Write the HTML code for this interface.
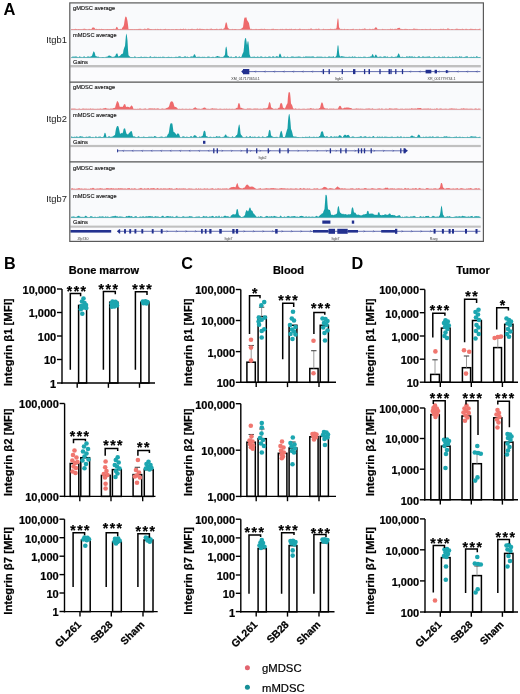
<!DOCTYPE html>
<html><head><meta charset="utf-8"><title>Figure</title>
<style>
html,body{margin:0;padding:0;background:#fff;}
body{width:520px;height:694px;overflow:hidden;}
svg{display:block;font-family:'Liberation Sans', Arial, sans-serif;}
.b{stroke:#000;stroke-width:0.22px;}
.s{stroke:#111;stroke-width:0.15px;}
</style></head><body>
<svg width="520" height="694" viewBox="0 0 520 694">
<rect width="520" height="694" fill="#fff"/>
<text x="3.6" y="14.8" font-size="16.5" font-weight="bold" text-anchor="start" fill="#000" class="b" style="stroke:none">A</text>
<rect x="69.8" y="2.9" width="413.6" height="238.5" fill="#f9fafc"/>
<rect x="70.4" y="67.4" width="412.4" height="14.8" fill="#fbfbfd"/>
<text x="73" y="9.8" font-size="5.7" fill="#222" class="s">gMDSC average</text>
<text x="73" y="36.9" font-size="5.7" fill="#222" class="s">mMDSC average</text>
<text x="73" y="63.5" font-size="5.7" fill="#222" class="s">Gains</text>
<line x1="70.4" y1="30.3" x2="482.8" y2="30.3" stroke="#dfe2e8" stroke-width="0.5" />
<line x1="70.4" y1="58.1" x2="482.8" y2="58.1" stroke="#dfe2e8" stroke-width="0.5" />
<line x1="71" y1="29.6" x2="480.5" y2="29.6" stroke="#dcaaac" stroke-width="1.0" />
<path d="M71,29.6 L71,29.16 71.5,29.25 72,29.11 72.5,29.23 73,29.06 73.5,29.19 74,29.29 74.5,28.96 75,29.1 75.5,28.77 76,28.94 76.5,28.89 77,29.01 77.5,29.41 78,29.11 78.5,29 79,29.12 79.5,29.13 80,29 80.5,29.19 81,29.34 81.5,29.11 82,29.5 82.5,29.21 83,28.8 83.5,29.07 84,28.82 84.5,28.74 85,28.66 85.5,28.89 86,28.92 86.5,29.18 87,29.14 87.5,29.46 88,29.32 88.5,29.19 89,28.72 89.5,28.97 90,28.99 90.5,29.26 91,29.16 91.5,28.94 92,28.21 92.5,27.54 93,27.59 93.5,27.61 94,27.5 94.5,28.01 95,28.55 95.5,29.18 96,29.04 96.5,28.83 97,29.12 97.5,29.02 98,29.26 98.5,29.21 99,28.67 99.5,28.93 100,28.9 100.5,29.2 101,28.95 101.5,28.85 102,28.96 102.5,28.88 103,29.11 103.5,28.94 104,29.23 104.5,29.28 105,29.35 105.5,29.33 106,28.9 106.5,29.21 107,28.89 107.5,29.01 108,29.04 108.5,29.22 109,28.89 109.5,29.1 110,29.16 110.5,29.03 111,29.06 111.5,29.06 112,29.12 112.5,29.09 113,28.9 113.5,28.94 114,28.52 114.5,29.18 115,28.91 115.5,29.09 116,27.69 116.5,26.92 117,26.68 117.5,27.38 118,28.68 118.5,29.05 119,29.33 119.5,29.16 120,28.99 120.5,28.72 121,29.03 121.5,29.3 122,28.33 122.5,27.49 123,26.7 123.5,26.18 124,24.53 124.5,21.05 125,18.03 125.5,16.44 126,16.67 126.5,17 127,18.72 127.5,20.97 128,24.64 128.5,29.14 129,29.13 129.5,29.2 130,29.14 130.5,28.93 131,29.21 131.5,29.09 132,29.21 132.5,28.91 133,29.3 133.5,29.27 134,29.23 134.5,29.06 135,29.17 135.5,29.15 136,29.09 136.5,28.89 137,29.4 137.5,29.03 138,28.99 138.5,28.95 139,28.85 139.5,29.1 140,28.75 140.5,28.99 141,28.79 141.5,29.19 142,29.46 142.5,29.31 143,29.42 143.5,29.09 144,28.94 144.5,28.54 145,28.92 145.5,28.75 146,28.89 146.5,29.15 147,28.72 147.5,28.43 148,28.29 148.5,28.44 149,28.65 149.5,28.85 150,28.94 150.5,29.06 151,29.06 151.5,28.94 152,29.16 152.5,29.24 153,29.26 153.5,29.13 154,29.19 154.5,29.3 155,29.05 155.5,28.95 156,28.71 156.5,29.39 157,29.16 157.5,28.86 158,29.03 158.5,28.94 159,29.31 159.5,29.18 160,29.28 160.5,28.86 161,29.24 161.5,29.13 162,29.2 162.5,29.49 163,29.24 163.5,29.25 164,28.91 164.5,29.08 165,29.05 165.5,28.81 166,29.06 166.5,29.16 167,29.41 167.5,29.33 168,29.05 168.5,29.29 169,29.12 169.5,29.26 170,29.36 170.5,29.41 171,29.23 171.5,29.32 172,29.07 172.5,29.31 173,29.25 173.5,29.12 174,29.41 174.5,29.43 175,29.34 175.5,28.94 176,28.96 176.5,29.09 177,29.05 177.5,29.18 178,29.36 178.5,29.36 179,29.5 179.5,29.35 180,29.11 180.5,28.71 181,29.06 181.5,28.98 182,28.89 182.5,29.03 183,28.98 183.5,28.48 184,28.9 184.5,29.21 185,29.29 185.5,28.62 186,29.22 186.5,29.23 187,29.5 187.5,29.43 188,29.45 188.5,28.87 189,29.2 189.5,29.15 190,29.27 190.5,28.94 191,29.01 191.5,28.99 192,28.62 192.5,29.12 193,29.3 193.5,29.1 194,29.27 194.5,28.97 195,29.32 195.5,29.14 196,29.23 196.5,29.05 197,28.66 197.5,28.42 198,29.07 198.5,29.26 199,28.77 199.5,28.74 200,28.7 200.5,28.87 201,28.92 201.5,28.88 202,28.83 202.5,28.88 203,28.88 203.5,29.07 204,29.05 204.5,29.09 205,29.47 205.5,29.33 206,29.23 206.5,28.92 207,28.8 207.5,28.92 208,29.06 208.5,29.29 209,29.29 209.5,29.46 210,28.56 210.5,28.91 211,28.87 211.5,28.61 212,29.01 212.5,28.9 213,28.92 213.5,29.31 214,29.29 214.5,29.04 215,28.9 215.5,28.97 216,28.96 216.5,28.77 217,28.76 217.5,29.1 218,29.47 218.5,29.26 219,29.17 219.5,28.85 220,28.88 220.5,28.75 221,28.99 221.5,28.62 222,29.12 222.5,29.47 223,29.22 223.5,28.79 224,28.37 224.5,28.15 225,25.94 225.5,23.4 226,22.27 226.5,22.51 227,23.79 227.5,26.44 228,28.15 228.5,28.32 229,28.72 229.5,29.36 230,29.22 230.5,29.36 231,29.24 231.5,29.2 232,29.28 232.5,28.8 233,29.15 233.5,29.25 234,29.27 234.5,29 235,29.12 235.5,29 236,29.06 236.5,29.17 237,29.47 237.5,29.29 238,29.4 238.5,29.36 239,29.35 239.5,29.34 240,29.13 240.5,28.98 241,28.86 241.5,28.44 242,28.35 242.5,27.76 243,27.18 243.5,23.4 244,19.7 244.5,17.57 245,17.68 245.5,17.77 246,17.1 246.5,17.79 247,19.97 247.5,20.82 248,21.41 248.5,22.25 249,23.35 249.5,25.95 250,28.26 250.5,29.11 251,28.94 251.5,28.82 252,28.91 252.5,29.14 253,29.29 253.5,29.14 254,29.1 254.5,29.22 255,29.14 255.5,28.99 256,28.68 256.5,28.9 257,28.98 257.5,29.37 258,29.16 258.5,29.1 259,28.95 259.5,28.92 260,29 260.5,29.08 261,28.68 261.5,28.95 262,28.74 262.5,28.96 263,29.12 263.5,29.13 264,28.83 264.5,28.69 265,28.96 265.5,29.11 266,29.22 266.5,29.33 267,29.05 267.5,29.21 268,29.07 268.5,29.41 269,28.97 269.5,29.22 270,29.45 270.5,29.15 271,29.31 271.5,29.05 272,28.87 272.5,28.89 273,28.81 273.5,28.81 274,29.1 274.5,29.13 275,29.15 275.5,29.12 276,28.92 276.5,29.22 277,29.06 277.5,28.97 278,29.4 278.5,29.37 279,29.45 279.5,29.13 280,29.24 280.5,29.07 281,28.83 281.5,29.14 282,29.15 282.5,28.87 283,29.04 283.5,29.16 284,29.27 284.5,29.27 285,29.16 285.5,28.65 286,28.97 286.5,28.84 287,28.89 287.5,29.01 288,29.26 288.5,28.93 289,29.06 289.5,28.79 290,29.13 290.5,28.89 291,28.75 291.5,28.79 292,28.91 292.5,29.33 293,29.41 293.5,29.09 294,28.96 294.5,28.89 295,28.91 295.5,28.86 296,29.37 296.5,29.18 297,29.31 297.5,29.26 298,29.2 298.5,29.09 299,29 299.5,28.87 300,28.58 300.5,28.93 301,29.04 301.5,29.4 302,29.16 302.5,29.12 303,29.28 303.5,29.3 304,28.89 304.5,29.34 305,29.12 305.5,29.25 306,29.5 306.5,29.1 307,29.31 307.5,29.15 308,29.31 308.5,28.86 309,29.24 309.5,29.21 310,28.86 310.5,28.82 311,28.59 311.5,28.61 312,28.99 312.5,29.14 313,29.23 313.5,29.24 314,29.42 314.5,29.17 315,28.93 315.5,29.21 316,28.62 316.5,29.03 317,29.09 317.5,29.19 318,28.87 318.5,28.78 319,28.53 319.5,29.01 320,29.42 320.5,29.49 321,29.47 321.5,29.38 322,29.17 322.5,29.25 323,29.19 323.5,28.5 324,29.19 324.5,29.31 325,29.08 325.5,29.28 326,29.07 326.5,29.28 327,29.16 327.5,28.94 328,29.32 328.5,29.12 329,28.96 329.5,29.08 330,29.33 330.5,28.55 331,28.88 331.5,28.91 332,28.74 332.5,29.11 333,29.27 333.5,29.22 334,28.63 334.5,28.7 335,29.25 335.5,28.81 336,28.48 336.5,28.17 337,23.5 337.5,19.38 338,17.94 338.5,20.04 339,26.93 339.5,28.26 340,28.57 340.5,29.32 341,29.26 341.5,28.99 342,28.66 342.5,29.29 343,29.46 343.5,29.22 344,28.97 344.5,28.78 345,28.97 345.5,29.45 346,29.31 346.5,29.29 347,29.11 347.5,28.99 348,29.1 348.5,29.27 349,29.15 349.5,29.39 350,29.36 350.5,29.36 351,29.04 351.5,29.31 352,29.01 352.5,29.03 353,28.8 353.5,28.79 354,29.47 354.5,29.45 355,29.44 355.5,29.27 356,29.06 356.5,29.13 357,29.26 357.5,29.15 358,29.46 358.5,29.5 359,29.2 359.5,28.64 360,28.93 360.5,29.26 361,29.25 361.5,29.09 362,29.21 362.5,28.83 363,28.92 363.5,28.76 364,29.2 364.5,28.35 365,28.54 365.5,28.73 366,28.99 366.5,29.27 367,29.5 367.5,28.95 368,29.17 368.5,29.24 369,29.13 369.5,28.87 370,28.86 370.5,28.89 371,29.18 371.5,29.24 372,28.92 372.5,28.81 373,29.03 373.5,28.84 374,29.29 374.5,28.56 375,27.75 375.5,27.28 376,27.44 376.5,27.4 377,28.1 377.5,29.27 378,29.26 378.5,29.19 379,29.18 379.5,29.23 380,29.47 380.5,29.49 381,29.25 381.5,29.5 382,29.27 382.5,28.86 383,28.94 383.5,29.22 384,29.34 384.5,29.23 385,29.3 385.5,29.2 386,29.18 386.5,29.4 387,29.21 387.5,29.31 388,29.02 388.5,29.14 389,29.28 389.5,29.23 390,28.99 390.5,28.62 391,29.06 391.5,29.01 392,28.76 392.5,28.79 393,29.29 393.5,29.22 394,29.15 394.5,28.87 395,28.92 395.5,28.66 396,28.75 396.5,29.11 397,28.76 397.5,28.22 398,28.02 398.5,27.96 399,27.82 399.5,27.85 400,28.17 400.5,28.94 401,28.83 401.5,28.96 402,29.12 402.5,28.96 403,29.23 403.5,29.32 404,28.88 404.5,29.03 405,28.75 405.5,28.97 406,28.7 406.5,28.9 407,29.07 407.5,29.1 408,29.09 408.5,29.48 409,29.34 409.5,29.02 410,29.09 410.5,29.31 411,29.27 411.5,29.34 412,29.07 412.5,29.14 413,29 413.5,28.53 414,28.66 414.5,28.59 415,28.98 415.5,29.03 416,28.6 416.5,29.28 417,28.84 417.5,29.1 418,29.28 418.5,29.19 419,29.36 419.5,29.24 420,29.01 420.5,29.39 421,29.25 421.5,28.97 422,29.06 422.5,29.08 423,28.91 423.5,29.34 424,29.21 424.5,29.33 425,29.16 425.5,28.85 426,29.3 426.5,29.08 427,29.12 427.5,29.25 428,29.36 428.5,29.26 429,29.22 429.5,29.13 430,28.85 430.5,28.73 431,29.13 431.5,29.2 432,29.4 432.5,29.27 433,29.2 433.5,29.05 434,29.22 434.5,29.23 435,29.12 435.5,29.3 436,29.01 436.5,29.08 437,29.48 437.5,29.28 438,29.17 438.5,29.06 439,29.16 439.5,29.23 440,29.01 440.5,28.78 441,29.05 441.5,28.84 442,29.25 442.5,28.98 443,28.69 443.5,28.66 444,28.93 444.5,29.34 445,28.95 445.5,28.95 446,29.14 446.5,29.17 447,29.06 447.5,28.34 448,28.83 448.5,28.57 449,28.87 449.5,29.01 450,29.38 450.5,29.42 451,29.13 451.5,28.95 452,29 452.5,28.97 453,29.17 453.5,29.42 454,29.28 454.5,29.42 455,29.21 455.5,28.88 456,28.76 456.5,28.81 457,28.78 457.5,28.87 458,28.97 458.5,29.15 459,28.82 459.5,29.17 460,29.01 460.5,29.06 461,29.13 461.5,29.23 462,28.87 462.5,28.86 463,28.93 463.5,28.93 464,29.3 464.5,29.44 465,29.37 465.5,28.82 466,28.98 466.5,28.76 467,28.89 467.5,29.11 468,29.5 468.5,29.24 469,29.16 469.5,28.96 470,29.09 470.5,28.81 471,28.85 471.5,28.88 472,28.83 472.5,28.9 473,28.93 473.5,29.11 474,29.37 474.5,28.95 475,28.95 475.5,28.79 476,29.19 476.5,29.28 477,29.22 477.5,29.29 478,29.32 478.5,29.11 479,29.08 479.5,28.86 480,28.69 480.5,28.86 L480.5,29.6 Z" fill="#ee6a6c"/>
<line x1="71" y1="57.5" x2="480.5" y2="57.5" stroke="#9cc6c8" stroke-width="1.0" />
<path d="M71,57.5 L71,57.22 71.5,57.28 72,57.16 72.5,56.54 73,56.51 73.5,56.62 74,56.92 74.5,56.59 75,56.4 75.5,56.6 76,56.6 76.5,56.44 77,56.76 77.5,57.04 78,57.37 78.5,57.18 79,56.88 79.5,56.33 80,56.62 80.5,56.87 81,57.23 81.5,56.73 82,57.38 82.5,57.02 83,57.31 83.5,56.49 84,56.39 84.5,56.33 85,56.94 85.5,57.21 86,57.05 86.5,57.23 87,56.76 87.5,56.51 88,56.5 88.5,56.46 89,56.6 89.5,56.83 90,56.95 90.5,56.51 91,56.37 91.5,56.25 92,55.85 92.5,54.27 93,52.64 93.5,51.31 94,51.77 94.5,52.36 95,53.78 95.5,56.01 96,56.16 96.5,56.32 97,56.42 97.5,56.81 98,56.76 98.5,56.42 99,57.05 99.5,57.23 100,57.31 100.5,57.3 101,57.25 101.5,57.19 102,56.99 102.5,57.03 103,56.94 103.5,57.01 104,57.21 104.5,57.26 105,57.27 105.5,57.13 106,56.58 106.5,56.82 107,56.99 107.5,56.62 108,56.01 108.5,55.74 109,55.46 109.5,55.55 110,55.72 110.5,55.99 111,56.37 111.5,56.75 112,56.54 112.5,57.04 113,57.19 113.5,56.71 114,56.44 114.5,56.48 115,56.36 115.5,55.5 116,54.1 116.5,53.66 117,53.36 117.5,53.76 118,55.54 118.5,56.79 119,55.9 119.5,56.35 120,55.66 120.5,55.33 121,54.82 121.5,53.89 122,54.11 122.5,53.81 123,53.35 123.5,50.11 124,48.45 124.5,47.07 125,46 125.5,40.17 126,34.91 126.5,33.51 127,36.41 127.5,40.84 128,49.76 128.5,55.17 129,55.81 129.5,56.37 130,56.65 130.5,57.1 131,57.27 131.5,56.92 132,57.02 132.5,57.15 133,56.94 133.5,57.16 134,57.19 134.5,56.29 135,56.4 135.5,56.73 136,57.12 136.5,57.39 137,57.3 137.5,57.23 138,56.91 138.5,56.89 139,57 139.5,56.93 140,56.97 140.5,56.66 141,56.65 141.5,56.46 142,56.91 142.5,57.11 143,57.03 143.5,56.92 144,56.85 144.5,56.79 145,56.99 145.5,56.79 146,56.9 146.5,56.86 147,56.95 147.5,56.88 148,57.31 148.5,57.36 149,57.21 149.5,56.77 150,56.43 150.5,56.35 151,56.53 151.5,57.27 152,57.18 152.5,57.11 153,56.99 153.5,56.9 154,56.74 154.5,56.47 155,56.91 155.5,56.8 156,56.95 156.5,56.77 157,57.07 157.5,57.13 158,56.89 158.5,56.73 159,56.99 159.5,56.92 160,56.87 160.5,56.86 161,57.37 161.5,57.29 162,57.09 162.5,56.8 163,56.61 163.5,56.68 164,56.96 164.5,56.81 165,57.2 165.5,57.34 166,57.13 166.5,56.91 167,56.89 167.5,56.96 168,56.7 168.5,56.83 169,56.84 169.5,56.93 170,56.91 170.5,57.04 171,57.17 171.5,56.78 172,56.93 172.5,57.16 173,57.26 173.5,57.23 174,56.98 174.5,57.35 175,56.89 175.5,56.77 176,56.74 176.5,56.71 177,56.94 177.5,57 178,56.64 178.5,56.57 179,56.53 179.5,56.16 180,56.45 180.5,56.43 181,56.77 181.5,57.23 182,57.12 182.5,56.98 183,57.06 183.5,56.94 184,56.81 184.5,56.52 185,56.35 185.5,56.46 186,56.52 186.5,57.13 187,56.65 187.5,56.49 188,56.88 188.5,56.98 189,57.35 189.5,57.16 190,57.32 190.5,56.45 191,56.45 191.5,56.43 192,56.29 192.5,56.44 193,56.69 193.5,55.62 194,54.52 194.5,54.33 195,54.52 195.5,55.79 196,56.77 196.5,56.97 197,56.99 197.5,56.78 198,56.72 198.5,56.8 199,56.65 199.5,56.77 200,56.86 200.5,56.98 201,57.19 201.5,56.63 202,57.17 202.5,56.56 203,56.92 203.5,57.05 204,56.61 204.5,57.03 205,56.83 205.5,57.25 206,57.36 206.5,57.2 207,56.93 207.5,56.53 208,56.81 208.5,56.76 209,56.12 209.5,57.12 210,57.36 210.5,57.34 211,57.17 211.5,57.11 212,56.94 212.5,56.77 213,56.65 213.5,56.81 214,57.25 214.5,57.28 215,57.32 215.5,56.84 216,56.6 216.5,56.52 217,56.07 217.5,56.09 218,56.04 218.5,56.56 219,56.5 219.5,56.64 220,56.39 220.5,57.19 221,57.39 221.5,57.1 222,56.74 222.5,57.15 223,57 223.5,56.5 224,55.96 224.5,55.46 225,54.49 225.5,48.81 226,46.51 226.5,46.9 227,49.46 227.5,55.36 228,55.7 228.5,55.97 229,56.33 229.5,57.21 230,57.25 230.5,56.72 231,56.57 231.5,56.59 232,57.25 232.5,57.22 233,57.36 233.5,57.11 234,57.08 234.5,57.29 235,56.74 235.5,56.32 236,56.21 236.5,56.33 237,56.94 237.5,57.38 238,57.15 238.5,56.93 239,56.55 239.5,56.32 240,56.91 240.5,56.91 241,56.94 241.5,56.66 242,55.29 242.5,53.79 243,53.06 243.5,51.63 244,47.23 244.5,41.33 245,38.76 245.5,37.94 246,38.15 246.5,41.47 247,45.36 247.5,42.24 248,40.85 248.5,42.59 249,47.9 249.5,54.18 250,55.56 250.5,56.94 251,56.64 251.5,56.9 252,56.98 252.5,56.87 253,56.73 253.5,56.84 254,56.74 254.5,56.56 255,56.65 255.5,57.04 256,56.91 256.5,56.99 257,56.76 257.5,56.31 258,56.89 258.5,56.8 259,56.66 259.5,57.15 260,56.83 260.5,56.5 261,56.6 261.5,56.6 262,56.54 262.5,56.92 263,57.07 263.5,57.3 264,57.09 264.5,56.89 265,56.62 265.5,56.75 266,56.65 266.5,56.97 267,56.94 267.5,57.03 268,57.09 268.5,56.59 269,56.4 269.5,56.57 270,56.61 270.5,56.73 271,56.88 271.5,57.3 272,57.25 272.5,56.36 273,56.35 273.5,56.52 274,56.29 274.5,57.28 275,57.3 275.5,57.27 276,56.11 276.5,56.47 277,56 277.5,56.5 278,56.78 278.5,57.28 279,55.39 279.5,54.04 280,53.54 280.5,53.98 281,55.22 281.5,56.77 282,56.95 282.5,57.14 283,56.99 283.5,56.69 284,56.54 284.5,56.46 285,56.64 285.5,57.2 286,57.23 286.5,57.19 287,56.74 287.5,56.61 288,56.75 288.5,57.24 289,56.93 289.5,57.16 290,57.29 290.5,57.01 291,56.7 291.5,56.59 292,56.56 292.5,56.45 293,56.56 293.5,56.58 294,56.96 294.5,56.82 295,56.92 295.5,56.73 296,56.7 296.5,56.67 297,56.77 297.5,56.72 298,56.57 298.5,56.46 299,56.39 299.5,56.56 300,56.78 300.5,56.7 301,56.76 301.5,57.31 302,57.35 302.5,57.21 303,56.67 303.5,56.77 304,56.51 304.5,57.07 305,56.97 305.5,56.27 306,56.38 306.5,56.59 307,56.47 307.5,56.41 308,56.73 308.5,56.57 309,56.6 309.5,56.54 310,56.82 310.5,56.49 311,56.66 311.5,56.54 312,56.6 312.5,56.48 313,56.3 313.5,56.45 314,56.72 314.5,57.07 315,57.13 315.5,57.36 316,56.96 316.5,56.83 317,56.72 317.5,56.5 318,56.66 318.5,56.62 319,56.89 319.5,56.59 320,56.67 320.5,56.65 321,56.5 321.5,56.71 322,56.87 322.5,56.88 323,56.75 323.5,56.94 324,57.38 324.5,56.81 325,56.56 325.5,56.85 326,57.32 326.5,57.34 327,56.85 327.5,57.19 328,56.9 328.5,56.4 329,56.36 329.5,56.44 330,56.73 330.5,56.69 331,56.78 331.5,56.88 332,56.22 332.5,56.96 333,56.42 333.5,56 334,56.69 334.5,57.39 335,57.36 335.5,56.93 336,55.9 336.5,55.64 337,52.1 337.5,46.42 338,44.64 338.5,46.42 339,52.15 339.5,55.42 340,56.06 340.5,56.65 341,56.59 341.5,56.12 342,56.17 342.5,56.14 343,56.61 343.5,56.49 344,56.62 344.5,56.64 345,56.64 345.5,57.02 346,56.8 346.5,56.9 347,56.72 347.5,57.08 348,57.11 348.5,56.76 349,56.65 349.5,56.65 350,56.51 350.5,56.88 351,56.89 351.5,56.89 352,56.62 352.5,56.3 353,56.81 353.5,56.95 354,56.72 354.5,56.4 355,56.52 355.5,56.69 356,56.93 356.5,57.04 357,57.3 357.5,57.3 358,56.93 358.5,56.78 359,56.83 359.5,57.05 360,56.99 360.5,56.72 361,57.05 361.5,56.89 362,56.92 362.5,57.17 363,56.98 363.5,56.66 364,56.59 364.5,56.67 365,56.73 365.5,56.77 366,56.94 366.5,57.13 367,57.19 367.5,56.98 368,57.05 368.5,56.75 369,57.03 369.5,56.92 370,56.35 370.5,56.4 371,56.45 371.5,56.14 372,54.67 372.5,54.03 373,54.38 373.5,55.47 374,56.84 374.5,56.82 375,55.4 375.5,54.65 376,54.45 376.5,55.16 377,56.18 377.5,56.88 378,56.62 378.5,57.15 379,56.8 379.5,56.68 380,56.49 380.5,56.45 381,56.65 381.5,56.71 382,57.07 382.5,57.32 383,56.82 383.5,56.67 384,56.19 384.5,56.47 385,56.37 385.5,56.57 386,56.56 386.5,57.25 387,56.62 387.5,56.54 388,56.79 388.5,57.36 389,57.27 389.5,56.98 390,57.21 390.5,57.1 391,56.74 391.5,56.56 392,56.47 392.5,56.67 393,57.06 393.5,56.89 394,56.96 394.5,56.96 395,56.67 395.5,56.47 396,57.05 396.5,56.61 397,56.6 397.5,55.49 398,54.24 398.5,53.37 399,53.86 399.5,54.63 400,56.14 400.5,57.09 401,57.03 401.5,56.91 402,56.78 402.5,56.67 403,56.71 403.5,57.25 404,57.06 404.5,57.03 405,57.24 405.5,57.36 406,57.01 406.5,56.33 407,56.32 407.5,56.4 408,57.05 408.5,56.65 409,56.32 409.5,56.23 410,56.56 410.5,56.5 411,56.72 411.5,56.43 412,56.31 412.5,56.57 413,56.86 413.5,56.99 414,56.73 414.5,56.6 415,56.72 415.5,57.03 416,56.98 416.5,57.24 417,57.31 417.5,57.09 418,56.61 418.5,56.39 419,56.06 419.5,56.44 420,56.74 420.5,57.16 421,57.09 421.5,57.31 422,56.86 422.5,56.53 423,56.36 423.5,56.48 424,56.83 424.5,56.78 425,56.92 425.5,56.86 426,56.74 426.5,56.69 427,56.63 427.5,56.53 428,56.7 428.5,56.56 429,56.61 429.5,56.28 430,56.67 430.5,56.95 431,57.26 431.5,57.22 432,57.22 432.5,57.11 433,57.1 433.5,56.97 434,56.62 434.5,56.44 435,56.48 435.5,57.08 436,57.16 436.5,57.1 437,57.3 437.5,57.1 438,57.07 438.5,56.42 439,56.21 439.5,56.67 440,57.05 440.5,56.98 441,57.25 441.5,57.18 442,56.73 442.5,56.62 443,56.69 443.5,56.81 444,56.71 444.5,56.21 445,56.95 445.5,57.35 446,57.16 446.5,57.38 447,57.06 447.5,56.7 448,56.75 448.5,56.54 449,56.8 449.5,57 450,56.89 450.5,56.97 451,57 451.5,57.21 452,56.9 452.5,56.43 453,56.66 453.5,57.05 454,56.98 454.5,57.28 455,56.43 455.5,56.65 456,56.55 456.5,56.7 457,56.8 457.5,56.85 458,57.16 458.5,57.3 459,56.7 459.5,56.12 460,56.39 460.5,56.75 461,56.68 461.5,56.44 462,56.5 462.5,57.14 463,57.38 463.5,57.07 464,57.02 464.5,56.99 465,56.86 465.5,56.68 466,56.32 466.5,56.46 467,56.34 467.5,56.37 468,57.07 468.5,57.38 469,57.23 469.5,57.22 470,57.08 470.5,57.01 471,56.66 471.5,56.76 472,57.02 472.5,57.05 473,56.99 473.5,56.58 474,56.91 474.5,56.87 475,57.28 475.5,57.28 476,56.84 476.5,56.34 477,56.11 477.5,56.64 478,57.25 478.5,56.91 479,56.9 479.5,56.89 480,57.01 480.5,56.82 L480.5,57.5 Z" fill="#17a0a8"/>
<rect x="70.4" y="65" width="410.4" height="2.4" fill="#c0c0c0"/>
<text x="67" y="42.6" font-size="9.4" text-anchor="end" fill="#222">Itgb1</text>
<line x1="69.8" y1="82.2" x2="483.4" y2="82.2" stroke="#555" stroke-width="1.2" />
<rect x="70.4" y="147.1" width="412.4" height="14.8" fill="#fbfbfd"/>
<text x="73" y="89.1" font-size="5.7" fill="#222" class="s">gMDSC average</text>
<text x="73" y="116.6" font-size="5.7" fill="#222" class="s">mMDSC average</text>
<text x="73" y="143.5" font-size="5.7" fill="#222" class="s">Gains</text>
<line x1="70.4" y1="110" x2="482.8" y2="110" stroke="#dfe2e8" stroke-width="0.5" />
<line x1="70.4" y1="138.1" x2="482.8" y2="138.1" stroke="#dfe2e8" stroke-width="0.5" />
<line x1="71" y1="109.3" x2="480.5" y2="109.3" stroke="#dcaaac" stroke-width="1.0" />
<path d="M71,109.3 L71,108.92 71.5,108.81 72,108.53 72.5,108.67 73,108.84 73.5,108.64 74,108.59 74.5,108.7 75,108.65 75.5,108.8 76,109.03 76.5,108.95 77,108.95 77.5,108.94 78,109.13 78.5,108.8 79,108.66 79.5,108.51 80,109.04 80.5,109.05 81,108.92 81.5,109.02 82,109.06 82.5,108.43 83,108.79 83.5,108.59 84,108.71 84.5,108.8 85,108.94 85.5,108.79 86,108.86 86.5,108.84 87,108.82 87.5,108.97 88,108.65 88.5,108.79 89,109 89.5,108.88 90,108.38 90.5,108.53 91,108.8 91.5,109.08 92,108.69 92.5,108.63 93,108.68 93.5,108.87 94,109.03 94.5,109 95,108.7 95.5,109.06 96,109 96.5,108.93 97,108.66 97.5,108.8 98,109.02 98.5,108.8 99,108.91 99.5,108.63 100,108.79 100.5,108.46 101,108.8 101.5,108.91 102,108.81 102.5,108.94 103,108.56 103.5,108.48 104,108.27 104.5,108.21 105,108.16 105.5,107.7 106,108.2 106.5,108.55 107,108.39 107.5,108.77 108,108.86 108.5,108.87 109,108.71 109.5,108.9 110,108.83 110.5,108.56 111,108.76 111.5,108.63 112,108.36 112.5,108.79 113,108.54 113.5,107.99 114,108.08 114.5,107.75 115,107.89 115.5,106.1 116,104.19 116.5,102.83 117,101.19 117.5,101.11 118,101.65 118.5,102.62 119,103.72 119.5,106.2 120,106.89 120.5,106.82 121,106.78 121.5,106.66 122,106.88 122.5,106.9 123,106.37 123.5,105.53 124,104.22 124.5,104.33 125,104.1 125.5,105 126,106.63 126.5,107.06 127,106.66 127.5,106.73 128,106.81 128.5,107 129,106.96 129.5,107.57 130,107.35 130.5,106.51 131,105.67 131.5,105.36 132,105.96 132.5,106.3 133,107.48 133.5,108.99 134,109.09 134.5,109.04 135,108.84 135.5,108.97 136,108.9 136.5,108.97 137,108.96 137.5,108.82 138,109.08 138.5,108.91 139,108.69 139.5,108.66 140,108.35 140.5,108.63 141,108.85 141.5,109.02 142,109.11 142.5,109.13 143,108.85 143.5,108.94 144,108.67 144.5,108.72 145,108.58 145.5,108.61 146,108.75 146.5,109.13 147,109.06 147.5,109.15 148,108.99 148.5,108.83 149,108.16 149.5,108.62 150,108.48 150.5,108.14 151,108.71 151.5,108.45 152,108.36 152.5,108.61 153,108.87 153.5,108.76 154,108.37 154.5,108.59 155,108.56 155.5,108.68 156,109.03 156.5,108.47 157,108.67 157.5,108.3 158,108.42 158.5,108.59 159,108.78 159.5,108.96 160,109.1 160.5,109.03 161,109.09 161.5,108.74 162,108.42 162.5,108.54 163,108.64 163.5,108.86 164,108.94 164.5,108.8 165,108.99 165.5,108.77 166,108.04 166.5,108.25 167,107.82 167.5,107.72 168,107.45 168.5,106.97 169,106.38 169.5,104.74 170,103.07 170.5,101.96 171,101.44 171.5,101.5 172,100.92 172.5,101.71 173,102.21 173.5,103.35 174,105.19 174.5,106.64 175,106.78 175.5,107.03 176,107.1 176.5,107.54 177,107.84 177.5,108.44 178,108.96 178.5,108.97 179,109.02 179.5,108.87 180,108.89 180.5,108.88 181,109.06 181.5,108.95 182,108.86 182.5,108.79 183,108.65 183.5,109.1 184,109.2 184.5,108.9 185,109.02 185.5,108.79 186,108.91 186.5,108.87 187,108.93 187.5,108.94 188,109.01 188.5,108.94 189,108.97 189.5,108.72 190,108.72 190.5,109.08 191,108.98 191.5,109.01 192,108.94 192.5,109.07 193,108.95 193.5,108.16 194,107.95 194.5,107.57 195,107.63 195.5,107.08 196,107.98 196.5,108.3 197,108.44 197.5,108.64 198,108.83 198.5,108.73 199,108.86 199.5,108.86 200,109.02 200.5,109.04 201,108.89 201.5,108.91 202,108.37 202.5,108.69 203,108.13 203.5,107.86 204,107.63 204.5,107.62 205,107.41 205.5,108.01 206,108.4 206.5,108.89 207,108.62 207.5,108.97 208,108.89 208.5,108.87 209,109.11 209.5,109.12 210,109.06 210.5,108.83 211,108.77 211.5,108.61 212,108.48 212.5,108.37 213,108.32 213.5,108.8 214,108.7 214.5,108.48 215,108.67 215.5,108.71 216,108.62 216.5,108.66 217,108.67 217.5,108.95 218,109.08 218.5,109.06 219,109.08 219.5,108.87 220,108.84 220.5,108.84 221,108.84 221.5,109 222,109.07 222.5,108.93 223,108.88 223.5,108.89 224,108.72 224.5,108.77 225,108.93 225.5,108.91 226,108.87 226.5,108.72 227,108.85 227.5,108.93 228,109.03 228.5,108.88 229,108.75 229.5,108.7 230,109.02 230.5,109.13 231,108.84 231.5,109.06 232,109 232.5,108.69 233,109.05 233.5,109.18 234,108.8 234.5,109.06 235,108.93 235.5,108.72 236,108.31 236.5,107.72 237,107.92 237.5,107.67 238,104.71 238.5,103.24 239,102.91 239.5,103.57 240,104.9 240.5,107.85 241,107.95 241.5,107.71 242,107.94 242.5,108.62 243,108.45 243.5,108.7 244,108.74 244.5,108.94 245,108.96 245.5,108.89 246,108.92 246.5,108.88 247,108.85 247.5,108.38 248,108.59 248.5,108.69 249,108.4 249.5,108.38 250,108.63 250.5,108.61 251,108.71 251.5,108.77 252,109.14 252.5,109.09 253,108.68 253.5,108.77 254,108.65 254.5,108.45 255,108.67 255.5,108.53 256,108.75 256.5,108.77 257,108.59 257.5,108.66 258,108.53 258.5,108.9 259,109.15 259.5,108.78 260,108.92 260.5,108.74 261,108.47 261.5,108.92 262,108.98 262.5,108.96 263,108.46 263.5,108.55 264,108.51 264.5,108.47 265,108.43 265.5,108.48 266,108.46 266.5,108.36 267,108.14 267.5,107.73 268,107.34 268.5,104.8 269,102.85 269.5,101.98 270,102.56 270.5,103.66 271,106.67 271.5,107.8 272,108.04 272.5,108.27 273,108.5 273.5,108.94 274,108.97 274.5,109.02 275,108.86 275.5,108.86 276,108.74 276.5,108.83 277,109.17 277.5,108.74 278,108.47 278.5,107.8 279,107.65 279.5,107.65 280,104.81 280.5,103.53 281,102.75 281.5,103.18 282,103.59 282.5,105.34 283,107.85 283.5,107.75 284,108.23 284.5,108.41 285,108.53 285.5,107.33 286,106.29 286.5,104.81 287,104.13 287.5,102.91 288,96.24 288.5,92.75 289,92.01 289.5,92.3 290,92.79 290.5,97.15 291,103.51 291.5,104.31 292,104.94 292.5,106.35 293,108.06 293.5,108.76 294,108.87 294.5,109.06 295,108.73 295.5,108.36 296,108.63 296.5,109.06 297,108.83 297.5,109.18 298,109.02 298.5,108.84 299,108.69 299.5,108.8 300,108.89 300.5,109.01 301,108.96 301.5,109.05 302,108.95 302.5,108.81 303,108.99 303.5,108.64 304,108.76 304.5,108.7 305,108.91 305.5,109.02 306,109.09 306.5,109.09 307,108.76 307.5,108.76 308,108.7 308.5,108.72 309,108.87 309.5,108.73 310,108.51 310.5,108.22 311,108.08 311.5,108.42 312,108.69 312.5,108.67 313,108.67 313.5,108.49 314,108.66 314.5,109.05 315,109.12 315.5,108.89 316,108.87 316.5,108.71 317,108.75 317.5,108.72 318,108.89 318.5,108.67 319,108.42 319.5,108.08 320,107.89 320.5,105.94 321,103.98 321.5,102.58 322,102.42 322.5,102.81 323,103.98 323.5,106.29 324,107.79 324.5,107.83 325,108.39 325.5,108.53 326,108.62 326.5,108.62 327,108.64 327.5,108.33 328,109.03 328.5,108.99 329,108.93 329.5,108.56 330,108.66 330.5,108.75 331,108.54 331.5,108.73 332,108.82 332.5,108.81 333,108.81 333.5,108.56 334,108.7 334.5,108.92 335,108.72 335.5,108.88 336,108.9 336.5,108.66 337,108.88 337.5,108.79 338,108.84 338.5,107.45 339,106.58 339.5,106.01 340,105.79 340.5,105.97 341,106.58 341.5,107.69 342,108.59 342.5,108.5 343,108.5 343.5,108.24 344,108.04 344.5,107.57 345,107.83 345.5,107.78 346,107.57 346.5,107.59 347,107.46 347.5,107.41 348,107.38 348.5,107.62 349,107.72 349.5,107.73 350,107.91 350.5,108.1 351,107.98 351.5,108.13 352,108.63 352.5,108.92 353,109.01 353.5,109.06 354,108.77 354.5,108.91 355,108.8 355.5,108.87 356,108.76 356.5,108.59 357,108.31 357.5,108.74 358,108.96 358.5,108.52 359,108.83 359.5,108.84 360,109 360.5,108.5 361,108.7 361.5,108.66 362,108.92 362.5,108.77 363,108.75 363.5,108.96 364,109.07 364.5,108.95 365,108.97 365.5,108.83 366,108.84 366.5,108.64 367,108.39 367.5,108.69 368,108.65 368.5,108.46 369,108.42 369.5,108.51 370,108.64 370.5,108.65 371,109.12 371.5,108.89 372,108.27 372.5,108.57 373,108.84 373.5,108.9 374,109.02 374.5,109.06 375,108.96 375.5,108.91 376,109.1 376.5,109.13 377,108.79 377.5,109.01 378,108.75 378.5,108.68 379,108.64 379.5,108.58 380,108.81 380.5,109.18 381,108.89 381.5,108.54 382,108.46 382.5,108.63 383,109.07 383.5,109.13 384,109.16 384.5,109.12 385,108.95 385.5,108.74 386,108.54 386.5,108.8 387,108.92 387.5,108.9 388,108.87 388.5,108.93 389,108.75 389.5,108.35 390,108.31 390.5,108.47 391,108.8 391.5,108.61 392,108.64 392.5,108.65 393,108.76 393.5,108.84 394,108.88 394.5,108.52 395,108.42 395.5,108.39 396,108.64 396.5,108.28 397,108.86 397.5,108.67 398,108.82 398.5,108.94 399,108.98 399.5,109 400,109.08 400.5,108.64 401,108.8 401.5,108.81 402,108.89 402.5,108.39 403,108.88 403.5,108.95 404,109.05 404.5,109.09 405,108.71 405.5,108.84 406,108.73 406.5,108.82 407,108.91 407.5,108.87 408,108.8 408.5,108.88 409,108.87 409.5,108.85 410,108.74 410.5,108.98 411,108.52 411.5,108.37 412,108.57 412.5,108.52 413,108.85 413.5,108.64 414,108.6 414.5,108.63 415,108.51 415.5,108.39 416,108.8 416.5,108.65 417,108.48 417.5,108.29 418,107.77 418.5,108.25 419,108.14 419.5,108.08 420,108.07 420.5,107.97 421,108.05 421.5,108.77 422,108.64 422.5,109.05 423,108.67 423.5,108.78 424,108.78 424.5,108.8 425,108.47 425.5,108.74 426,108.77 426.5,108.77 427,108.58 427.5,108.86 428,108.61 428.5,108.41 429,108.64 429.5,108.78 430,109.01 430.5,108.24 431,108.9 431.5,108.98 432,108.81 432.5,108.88 433,108.92 433.5,108.94 434,109 434.5,108.81 435,108.71 435.5,108.94 436,109.03 436.5,108.26 437,108.54 437.5,108.55 438,109.06 438.5,109.13 439,108.83 439.5,108.79 440,108.71 440.5,108.5 441,108.45 441.5,108.68 442,108.8 442.5,109.04 443,109.08 443.5,108.76 444,109.16 444.5,108.74 445,108.68 445.5,108.74 446,108.76 446.5,108.74 447,109.11 447.5,109.13 448,108.77 448.5,108.88 449,109.02 449.5,108.56 450,108.73 450.5,108.68 451,108.2 451.5,108.38 452,108.58 452.5,108.56 453,108.7 453.5,108.65 454,108.47 454.5,108.66 455,108.65 455.5,108.97 456,108.53 456.5,108.82 457,108.91 457.5,109.03 458,108.96 458.5,109.08 459,109.01 459.5,109.09 460,109.06 460.5,108.9 461,108.52 461.5,108.38 462,108.68 462.5,108.71 463,108.42 463.5,108.26 464,108.62 464.5,108.75 465,108.62 465.5,108.96 466,108.49 466.5,108.71 467,108.68 467.5,108.75 468,108.67 468.5,108.91 469,108.72 469.5,108.86 470,109.06 470.5,108.74 471,108.46 471.5,108.66 472,108.94 472.5,108.83 473,108.92 473.5,109.15 474,109.14 474.5,108.79 475,108.7 475.5,108.52 476,108.55 476.5,108.7 477,109.04 477.5,109.01 478,109.09 478.5,108.58 479,108.76 479.5,108.87 480,108.86 480.5,108.75 L480.5,109.3 Z" fill="#ee6a6c"/>
<line x1="71" y1="137.5" x2="480.5" y2="137.5" stroke="#9cc6c8" stroke-width="1.0" />
<path d="M71,137.5 L71,136.77 71.5,136.5 72,136.56 72.5,136.92 73,137.09 73.5,137.05 74,136.74 74.5,136.61 75,137.16 75.5,136.89 76,136.61 76.5,136.59 77,136.5 77.5,136.8 78,137.05 78.5,137.36 79,136.51 79.5,136.46 80,136.4 80.5,136.36 81,136.12 81.5,136.68 82,136.52 82.5,136.48 83,136.86 83.5,136.94 84,137.13 84.5,137.13 85,136.94 85.5,137.31 86,136.5 86.5,136.64 87,136.72 87.5,137.07 88,136.85 88.5,136.53 89,136.67 89.5,136.31 90,136.59 90.5,136.62 91,137 91.5,137.2 92,137.01 92.5,136.92 93,136.79 93.5,136.96 94,137.38 94.5,137.4 95,137.03 95.5,136.5 96,136.23 96.5,136.69 97,137.26 97.5,137.27 98,137 98.5,136.73 99,136.51 99.5,136.65 100,136.62 100.5,136.62 101,137.02 101.5,136.91 102,137.1 102.5,137.05 103,136.89 103.5,136.59 104,135.17 104.5,133.06 105,132.87 105.5,133.35 106,135.09 106.5,137.29 107,137.23 107.5,137.18 108,136.86 108.5,136.57 109,135.97 109.5,136.57 110,136.53 110.5,137.09 111,136.78 111.5,136.66 112,136.67 112.5,136.62 113,136.15 113.5,136.03 114,135.58 114.5,135.25 115,134.95 115.5,131.59 116,128.67 116.5,127.2 117,126.34 117.5,126.12 118,125.97 118.5,126.77 119,128.74 119.5,131.37 120,133.77 120.5,133.71 121,133.35 121.5,132.82 122,133.42 122.5,132.94 123,132.2 123.5,129.4 124,128.53 124.5,128.46 125,128.23 125.5,129.91 126,132.06 126.5,133.51 127,134.19 127.5,134.26 128,134.38 128.5,134.12 129,132.84 129.5,132.7 130,132.33 130.5,131.5 131,131.06 131.5,131.08 132,131.99 132.5,133.96 133,136.18 133.5,136.45 134,136.35 134.5,136.51 135,136.45 135.5,136.96 136,136.94 136.5,137.18 137,137.35 137.5,137.04 138,136.24 138.5,136.35 139,136.43 139.5,136.85 140,137.24 140.5,137.11 141,137.18 141.5,136.88 142,136.79 142.5,137.13 143,136.69 143.5,136.58 144,136.69 144.5,136.75 145,136.9 145.5,136.97 146,136.98 146.5,137.06 147,136.88 147.5,136.97 148,136.91 148.5,136.84 149,136.57 149.5,136.8 150,136.67 150.5,136.74 151,136.69 151.5,136.84 152,136.6 152.5,136.92 153,136.87 153.5,136.9 154,136.39 154.5,136.11 155,136.1 155.5,136.2 156,136.72 156.5,136.79 157,137.32 157.5,137.18 158,137.35 158.5,137.28 159,137.11 159.5,136.95 160,136.8 160.5,136.84 161,136.76 161.5,136.46 162,136.44 162.5,136.71 163,136.99 163.5,137.22 164,137.21 164.5,137.02 165,136.87 165.5,136.45 166,136.81 166.5,136.81 167,136.02 167.5,135.1 168,134.04 168.5,133.73 169,131.67 169.5,127.98 170,124.97 170.5,123.56 171,123.34 171.5,123.47 172,122.94 172.5,124.57 173,128.22 173.5,131.97 174,131.81 174.5,132.48 175,132.68 175.5,133.59 176,134.21 176.5,135.03 177,133.95 177.5,133.47 178,133.24 178.5,133.75 179,134.12 179.5,135.31 180,136.64 180.5,137.08 181,137.38 181.5,137.35 182,136.89 182.5,136.56 183,136.32 183.5,136.43 184,136.16 184.5,136.63 185,136.91 185.5,137.1 186,136.93 186.5,136.52 187,136.84 187.5,136.66 188,137.1 188.5,137.1 189,136.95 189.5,137.23 190,136.81 190.5,136.23 191,136.28 191.5,136.31 192,136.44 192.5,137.03 193,137.14 193.5,135.78 194,135.87 194.5,135.06 195,135.27 195.5,135.42 196,135.69 196.5,136.22 197,137.07 197.5,137.29 198,137.14 198.5,137.39 199,136.82 199.5,136.38 200,136.4 200.5,137.1 201,136.47 201.5,136.49 202,136.11 202.5,136.08 203,134.38 203.5,131.93 204,130.8 204.5,130.8 205,130.95 205.5,132.31 206,135.88 206.5,136.21 207,136.22 207.5,136.52 208,136.93 208.5,137.31 209,137.09 209.5,136.95 210,136.59 210.5,136.73 211,136.84 211.5,137.03 212,137.25 212.5,137.15 213,137.04 213.5,136.73 214,136.66 214.5,136.97 215,137.07 215.5,136.94 216,136.54 216.5,136.12 217,136.17 217.5,136.46 218,136.65 218.5,136.86 219,136.12 219.5,136.48 220,136.49 220.5,137.02 221,137.29 221.5,137.24 222,137.25 222.5,136.94 223,136.75 223.5,136.74 224,136.65 224.5,135.91 225,135.1 225.5,134.46 226,134.44 226.5,135.54 227,136.53 227.5,136.54 228,136.48 228.5,136.73 229,136.72 229.5,136.96 230,137.38 230.5,137.33 231,137.11 231.5,137.4 232,136.61 232.5,136.28 233,136.43 233.5,137.15 234,137.19 234.5,137.11 235,137.02 235.5,136.25 236,135.81 236.5,135.05 237,134.93 237.5,133.36 238,128.95 238.5,126.53 239,124.43 239.5,124.72 240,127.89 240.5,133.21 241,134.85 241.5,135.3 242,135.76 242.5,136.45 243,137.24 243.5,137.08 244,137.39 244.5,137.33 245,137.37 245.5,137.33 246,136.52 246.5,136.28 247,136.41 247.5,137.08 248,137.18 248.5,137.09 249,136.97 249.5,136.23 250,136.2 250.5,136.08 251,136.63 251.5,136.92 252,137.05 252.5,136.86 253,136.61 253.5,136.91 254,136.88 254.5,136.62 255,136.5 255.5,136.76 256,137.32 256.5,137.27 257,136.92 257.5,136.97 258,136.85 258.5,136.48 259,136.49 259.5,136.81 260,137 260.5,137.22 261,137.4 261.5,137.2 262,136.82 262.5,136.22 263,136.44 263.5,136.68 264,137.22 264.5,136.89 265,137.3 265.5,137.18 266,136.88 266.5,136.58 267,136.37 267.5,136.13 268,136.03 268.5,132.94 269,130.57 269.5,129.89 270,129.82 270.5,131.47 271,135 271.5,135.9 272,136.28 272.5,136.44 273,136.86 273.5,136.98 274,136.92 274.5,136.88 275,137 275.5,136.92 276,136.84 276.5,136.78 277,136.93 277.5,136.85 278,137.39 278.5,137.14 279,137.39 279.5,136.58 280,133.65 280.5,131.96 281,130.89 281.5,130.86 282,132.36 282.5,134.28 283,137.02 283.5,137.02 284,136.97 284.5,137.33 285,136.64 285.5,135.15 286,133.18 286.5,131.61 287,129.67 287.5,128.54 288,120.97 288.5,116.51 289,113.95 289.5,114.18 290,117.72 290.5,122.54 291,128.88 291.5,129.99 292,131.47 292.5,133.43 293,135.83 293.5,136.56 294,136.49 294.5,136.41 295,136.72 295.5,136.39 296,136.58 296.5,136.84 297,137.09 297.5,137.07 298,137.07 298.5,137.1 299,137 299.5,137.15 300,137.25 300.5,137.27 301,137.17 301.5,137.4 302,137.11 302.5,136.76 303,137.1 303.5,137.11 304,136.9 304.5,137.15 305,136.94 305.5,136.52 306,136.91 306.5,136.92 307,136.51 307.5,137.06 308,137.08 308.5,137.27 309,136.28 309.5,136.59 310,136.56 310.5,137.37 311,137.24 311.5,136.8 312,137.28 312.5,137.1 313,136.86 313.5,136.71 314,136.76 314.5,136.84 315,137.12 315.5,137.2 316,136.95 316.5,136.69 317,136.86 317.5,136.96 318,137.12 318.5,136.93 319,136.55 319.5,136.05 320,136.08 320.5,134.15 321,132.2 321.5,131.69 322,131.06 322.5,131.4 323,131.83 323.5,133.86 324,135.83 324.5,136.16 325,136.24 325.5,136.67 326,136.96 326.5,136.03 327,136.19 327.5,136.25 328,137.27 328.5,137.33 329,136.8 329.5,137.32 330,137.04 330.5,136.35 331,136.35 331.5,136.37 332,136.58 332.5,137.07 333,137.26 333.5,136.7 334,136.39 334.5,136.54 335,136.37 335.5,136.73 336,136.68 336.5,136.51 337,136.35 337.5,136.73 338,136.94 338.5,136.21 339,135.61 339.5,135.09 340,135.44 340.5,135.43 341,135.65 341.5,136.22 342,137.16 342.5,137.38 343,136.81 343.5,135.86 344,135.57 344.5,134.84 345,134.7 345.5,134.86 346,135.26 346.5,135.74 347,135.13 347.5,134.95 348,134.94 348.5,134.85 349,135.51 349.5,136.05 350,137.04 350.5,137.33 351,137.19 351.5,137 352,136.38 352.5,136.5 353,136.45 353.5,136.41 354,136.72 354.5,137.03 355,137.32 355.5,137.29 356,136.95 356.5,137.15 357,136.86 357.5,136.98 358,136.98 358.5,136.73 359,137.05 359.5,136.7 360,136.6 360.5,136.37 361,136.17 361.5,136.52 362,136.46 362.5,137.3 363,137.14 363.5,136.77 364,136.62 364.5,136.58 365,136.33 365.5,136.29 366,136.52 366.5,136.74 367,137.3 367.5,137.29 368,136.75 368.5,136.95 369,136.81 369.5,136.63 370,136.59 370.5,137.07 371,137.28 371.5,137.27 372,136.99 372.5,136.51 373,136.29 373.5,135.96 374,136.24 374.5,137.13 375,137.26 375.5,137.38 376,137.35 376.5,137.3 377,136.68 377.5,136.61 378,136.62 378.5,136.91 379,136.64 379.5,136.41 380,136.81 380.5,136.86 381,137.32 381.5,136.64 382,136.56 382.5,136.52 383,136.96 383.5,137.22 384,137.09 384.5,136.55 385,136.71 385.5,136.73 386,136.46 386.5,136.75 387,136.96 387.5,136.69 388,137.06 388.5,136.94 389,136.84 389.5,137.04 390,137.07 390.5,136.92 391,136.47 391.5,136.64 392,136.79 392.5,136.48 393,137.1 393.5,137.12 394,137.19 394.5,137.08 395,136.82 395.5,136.98 396,137.14 396.5,137.04 397,136.55 397.5,136.48 398,136.49 398.5,136.82 399,137.03 399.5,137 400,136.78 400.5,136.5 401,136.26 401.5,136.48 402,137.3 402.5,137.38 403,137.19 403.5,137.01 404,136.41 404.5,136.94 405,136.93 405.5,137.16 406,137.31 406.5,136.7 407,137.02 407.5,136.88 408,136.67 408.5,137.05 409,137.09 409.5,137.15 410,136.86 410.5,136.39 411,136 411.5,135.57 412,135.7 412.5,135.52 413,136.21 413.5,136.47 414,136.24 414.5,136.62 415,137.17 415.5,137.03 416,137.1 416.5,137.04 417,137.16 417.5,136.06 418,135.05 418.5,134.56 419,134.65 419.5,135.02 420,135.87 420.5,136.95 421,137.27 421.5,137.04 422,137.14 422.5,137.24 423,136.8 423.5,136.64 424,136.85 424.5,137.26 425,137.05 425.5,136.81 426,136.54 426.5,136.45 427,137.33 427.5,136.87 428,137.1 428.5,136.86 429,136.83 429.5,136.56 430,136.73 430.5,136.62 431,136.76 431.5,137.12 432,136.81 432.5,136.32 433,136.41 433.5,136.56 434,137.29 434.5,137.01 435,136.98 435.5,136.9 436,136.68 436.5,136.78 437,136.56 437.5,136.8 438,136.46 438.5,136.53 439,137.16 439.5,137 440,137.35 440.5,137.27 441,136.81 441.5,137.05 442,137.2 442.5,137.03 443,137.07 443.5,136.77 444,136.45 444.5,136.25 445,136.61 445.5,136.47 446,136.39 446.5,136.17 447,136.23 447.5,136.86 448,136.92 448.5,136.63 449,136.65 449.5,136.71 450,136.77 450.5,136.94 451,137.22 451.5,137.1 452,137.32 452.5,137.14 453,136.96 453.5,136.94 454,137 454.5,136.7 455,136.96 455.5,136.79 456,136.74 456.5,136.37 457,136.99 457.5,136.94 458,137.31 458.5,137.07 459,136.74 459.5,136.69 460,136.76 460.5,136.86 461,137.34 461.5,137.23 462,137.04 462.5,136.84 463,137.04 463.5,136.98 464,136.9 464.5,137.33 465,137.07 465.5,137.16 466,137.13 466.5,137.25 467,136.98 467.5,136.51 468,136.91 468.5,137.05 469,137.31 469.5,137.1 470,136.71 470.5,136.38 471,136.25 471.5,136.16 472,136.37 472.5,136.45 473,136.6 473.5,136.49 474,136.85 474.5,136.59 475,136.46 475.5,136.48 476,136.53 476.5,136.97 477,137.28 477.5,137.26 478,137.33 478.5,137 479,136.9 479.5,136.82 480,136.74 480.5,136.88 L480.5,137.5 Z" fill="#17a0a8"/>
<rect x="70.4" y="144.9" width="410.4" height="2.2" fill="#c0c0c0"/>
<text x="67" y="122.2" font-size="9.4" text-anchor="end" fill="#222">Itgb2</text>
<line x1="69.8" y1="161.9" x2="483.4" y2="161.9" stroke="#555" stroke-width="1.2" />
<rect x="70.4" y="227.7" width="412.4" height="13.7" fill="#fbfbfd"/>
<text x="73" y="169.8" font-size="5.7" fill="#222" class="s">gMDSC average</text>
<text x="73" y="197.6" font-size="5.7" fill="#222" class="s">mMDSC average</text>
<text x="73" y="223.5" font-size="5.7" fill="#222" class="s">Gains</text>
<line x1="70.4" y1="190" x2="482.8" y2="190" stroke="#dfe2e8" stroke-width="0.5" />
<line x1="70.4" y1="218.1" x2="482.8" y2="218.1" stroke="#dfe2e8" stroke-width="0.5" />
<line x1="71" y1="189.3" x2="480.5" y2="189.3" stroke="#dcaaac" stroke-width="1.0" />
<path d="M71,189.3 L71,188.59 71.5,188.81 72,188.2 72.5,188.39 73,188.28 73.5,188.96 74,188.63 74.5,188.86 75,188.63 75.5,188.95 76,189.08 76.5,188.73 77,188.47 77.5,188.76 78,188.49 78.5,188.28 79,188.23 79.5,188.16 80,188.51 80.5,188.77 81,188.77 81.5,188.52 82,188.6 82.5,188.78 83,189.09 83.5,188.9 84,188.53 84.5,188.4 85,188.9 85.5,188.59 86,188.63 86.5,188.67 87,188.76 87.5,188.89 88,188.97 88.5,188.67 89,188.89 89.5,188.96 90,188.74 90.5,188.15 91,188.39 91.5,188.51 92,188.52 92.5,188.06 93,187.76 93.5,188.1 94,188.6 94.5,188.66 95,188.8 95.5,188.94 96,188.79 96.5,188.66 97,188.44 97.5,188.55 98,188.66 98.5,188.67 99,188.3 99.5,188.58 100,188.55 100.5,187.97 101,188.61 101.5,188.48 102,188.55 102.5,188.45 103,188.68 103.5,188.97 104,188.87 104.5,188.69 105,188.71 105.5,188.73 106,188.6 106.5,188.05 107,188.23 107.5,188.25 108,188.08 108.5,188.47 109,188.27 109.5,188.63 110,188.26 110.5,188.6 111,188.3 111.5,188.11 112,188.45 112.5,188.5 113,188.48 113.5,188.28 114,188.58 114.5,188.65 115,188.84 115.5,188.61 116,188.54 116.5,188.55 117,188.64 117.5,188.49 118,188.65 118.5,188.05 119,188.13 119.5,188.6 120,188.58 120.5,188.27 121,188.35 121.5,188.26 122,188.7 122.5,188.28 123,188.49 123.5,188.64 124,188.61 124.5,188.41 125,188.66 125.5,188.44 126,188.38 126.5,188.95 127,188.79 127.5,188.53 128,187.79 128.5,188.39 129,188.1 129.5,187.99 130,188.86 130.5,188.94 131,188.8 131.5,188.57 132,188.37 132.5,188.66 133,188.63 133.5,188.81 134,188.47 134.5,188.42 135,188.08 135.5,188.73 136,188.75 136.5,188.89 137,189.02 137.5,189.14 138,188.8 138.5,188.78 139,188.69 139.5,188.49 140,188.28 140.5,188.21 141,187.86 141.5,188.37 142,188.58 142.5,188.66 143,188.66 143.5,188.88 144,188.51 144.5,188.23 145,188.51 145.5,188.73 146,188.38 146.5,188.66 147,188.43 147.5,188.39 148,188.05 148.5,188.29 149,188.53 149.5,188.99 150,188.86 150.5,188.46 151,188.05 151.5,188.23 152,188.74 152.5,188.27 153,188 153.5,187.98 154,188.38 154.5,188.21 155,188.47 155.5,188.91 156,188.75 156.5,188.66 157,188.25 157.5,188 158,188.27 158.5,188.51 159,188.91 159.5,188.85 160,188.87 160.5,188.15 161,188.71 161.5,188.14 162,188.63 162.5,188.75 163,188.72 163.5,188.35 164,188.6 164.5,188.51 165,188.42 165.5,188.55 166,188.59 166.5,188.77 167,188.74 167.5,188.54 168,188.68 168.5,188.41 169,188.31 169.5,187.99 170,188.4 170.5,188.53 171,188.42 171.5,188.47 172,188.37 172.5,188.87 173,188.88 173.5,188.94 174,188.97 174.5,188.74 175,188.69 175.5,188.75 176,188.61 176.5,188.08 177,188.28 177.5,188.5 178,188.7 178.5,188.8 179,188.54 179.5,188.46 180,188.38 180.5,188.85 181,188.6 181.5,188.56 182,188.67 182.5,188.59 183,188.39 183.5,188.42 184,188.21 184.5,188.71 185,188.38 185.5,188.53 186,188.67 186.5,189.01 187,189.03 187.5,188.8 188,188.9 188.5,188.48 189,188.29 189.5,188.56 190,188.87 190.5,188.51 191,188.71 191.5,188.45 192,188.8 192.5,188.87 193,189.06 193.5,188.79 194,189.17 194.5,189 195,188.76 195.5,188.64 196,188.53 196.5,188.31 197,188.94 197.5,188.94 198,188.83 198.5,188.35 199,188.57 199.5,188.91 200,188.68 200.5,188.57 201,188.38 201.5,189.07 202,188.79 202.5,188.88 203,188.87 203.5,188.66 204,188.85 204.5,188.3 205,188.39 205.5,188.77 206,188.63 206.5,188.8 207,188.38 207.5,188.54 208,188.62 208.5,188.95 209,188.9 209.5,188.74 210,188.88 210.5,188.48 211,188.72 211.5,188.41 212,188.21 212.5,188.17 213,188.54 213.5,188.83 214,188.88 214.5,189.09 215,188.88 215.5,188.43 216,188.73 216.5,188.89 217,188.67 217.5,188.61 218,188.46 218.5,188.39 219,188.22 219.5,188.75 220,188.96 220.5,188.31 221,188.9 221.5,189.04 222,188.51 222.5,188.46 223,188.66 223.5,188.46 224,188.87 224.5,188.5 225,188.43 225.5,188.59 226,188.69 226.5,188.21 227,188.41 227.5,188.71 228,188.78 228.5,188.97 229,188.66 229.5,188.28 230,187.78 230.5,187.69 231,187.18 231.5,187.26 232,187.04 232.5,186.96 233,187.15 233.5,186.85 234,187.12 234.5,187.03 235,187.25 235.5,187.24 236,185.99 236.5,184.44 237,183.44 237.5,183.12 238,184.65 238.5,186.51 239,187.36 239.5,187.43 240,187.92 240.5,188.1 241,188.5 241.5,188.25 242,188.6 242.5,188.43 243,188.24 243.5,187.79 244,187.72 244.5,187.45 245,187.17 245.5,186.04 246,185.55 246.5,184.66 247,184.66 247.5,184.51 248,185.1 248.5,185.61 249,186.19 249.5,186.71 250,186.55 250.5,186.7 251,186.91 251.5,186.13 252,186.64 252.5,186.45 253,186.79 253.5,186.97 254,187.38 254.5,187.7 255,187.95 255.5,188.43 256,188.82 256.5,189.04 257,188.94 257.5,189.02 258,188.78 258.5,188.72 259,188.41 259.5,188.65 260,188.07 260.5,188.27 261,188.48 261.5,188.94 262,188.96 262.5,188.79 263,188.79 263.5,188.64 264,188.76 264.5,188.76 265,188.17 265.5,188.5 266,188.42 266.5,188.12 267,188.52 267.5,188.34 268,188.84 268.5,188.21 269,188.67 269.5,188.57 270,188.44 270.5,188.21 271,188.35 271.5,188.18 272,188.03 272.5,188.23 273,188.31 273.5,188 274,188.27 274.5,188.38 275,188.16 275.5,188.57 276,188.59 276.5,188.8 277,188.53 277.5,188.76 278,188.87 278.5,189.03 279,188.39 279.5,188.4 280,188.46 280.5,188.19 281,188.32 281.5,188.09 282,188.3 282.5,188.23 283,188.4 283.5,188.47 284,188.09 284.5,188.5 285,188.43 285.5,188.44 286,188.64 286.5,188.78 287,188.44 287.5,188.57 288,188.59 288.5,188.81 289,188.63 289.5,188.78 290,188.8 290.5,188.4 291,188.34 291.5,188.69 292,188.47 292.5,188.77 293,188.84 293.5,188.76 294,188.84 294.5,188.77 295,188.68 295.5,188.34 296,188.62 296.5,188.61 297,188.61 297.5,188.82 298,188.93 298.5,189.13 299,188.48 299.5,188.64 300,188.25 300.5,187.92 301,188.17 301.5,188.8 302,188.87 302.5,188.81 303,188.63 303.5,188.25 304,187.84 304.5,188.48 305,188.66 305.5,188.8 306,188.85 306.5,188.94 307,188.31 307.5,188.54 308,188.86 308.5,188.74 309,188.52 309.5,188.46 310,188.58 310.5,188.97 311,188.9 311.5,189.08 312,188.91 312.5,188.96 313,188.89 313.5,188.81 314,188.16 314.5,188.52 315,188.39 315.5,188.81 316,188.44 316.5,188.57 317,188.52 317.5,188.36 318,188.56 318.5,189.01 319,189.08 319.5,188.91 320,189.01 320.5,188.73 321,188.69 321.5,188.53 322,188.72 322.5,188.07 323,187.68 323.5,187.04 324,187.27 324.5,186.84 325,187 325.5,186.95 326,187.5 326.5,187.54 327,187.97 327.5,188.6 328,189.01 328.5,188.79 329,188.59 329.5,188.19 330,188.26 330.5,188.36 331,188.08 331.5,188.56 332,188.62 332.5,188.56 333,188.81 333.5,188.77 334,189.14 334.5,189.02 335,188.85 335.5,188.15 336,187.69 336.5,187.35 337,187.01 337.5,186.25 338,186.86 338.5,187.22 339,187.4 339.5,187.81 340,188.36 340.5,188.57 341,188.64 341.5,188.17 342,188.25 342.5,188.35 343,188.63 343.5,188.51 344,188.64 344.5,188.29 345,188.52 345.5,188.48 346,188.65 346.5,188.71 347,188.94 347.5,188.77 348,188.87 348.5,188.78 349,188.96 349.5,188.69 350,188.78 350.5,188.41 351,188.15 351.5,188.45 352,188.6 352.5,188.19 353,188.43 353.5,188.78 354,188.75 354.5,188.91 355,188.91 355.5,188.85 356,188.87 356.5,188.14 357,188.48 357.5,188.64 358,188.45 358.5,188.17 359,188.35 359.5,188.6 360,188.8 360.5,188.92 361,188.74 361.5,188.77 362,188.72 362.5,188.66 363,188.76 363.5,188.65 364,188.53 364.5,188.04 365,188.29 365.5,187.95 366,188.18 366.5,188.4 367,188.62 367.5,189.04 368,188.76 368.5,188.73 369,188.86 369.5,188.83 370,188.98 370.5,188.82 371,188.61 371.5,188.57 372,188.01 372.5,188.32 373,188.48 373.5,188.34 374,188.96 374.5,188.59 375,188.75 375.5,188.7 376,188.9 376.5,188.92 377,188.82 377.5,188.51 378,188.46 378.5,188.53 379,188.09 379.5,188.58 380,188.25 380.5,188.44 381,188.7 381.5,188.7 382,188.85 382.5,188.94 383,188.84 383.5,188.82 384,188.58 384.5,188.39 385,187.98 385.5,187.63 386,187.38 386.5,187.93 387,187.82 387.5,187.51 388,188.31 388.5,188.51 389,188.63 389.5,188.71 390,188.61 390.5,188.48 391,188.23 391.5,188.58 392,188.47 392.5,188.33 393,188.48 393.5,188.69 394,188.41 394.5,188.55 395,188.38 395.5,188.94 396,188.88 396.5,188.75 397,188.48 397.5,188.52 398,188.63 398.5,188.14 399,188.43 399.5,188.51 400,188.52 400.5,188.71 401,188.46 401.5,188.59 402,188.82 402.5,188.86 403,188.9 403.5,189.06 404,189.07 404.5,188.27 405,187.79 405.5,188.22 406,188.27 406.5,188.86 407,188.73 407.5,188.6 408,188.16 408.5,188.15 409,188.75 409.5,189.02 410,188.83 410.5,188.82 411,188.89 411.5,188.73 412,188.75 412.5,188.32 413,188.54 413.5,188.6 414,188.44 414.5,188.76 415,188.49 415.5,187.96 416,188.28 416.5,188.34 417,188.76 417.5,189.15 418,188.67 418.5,188.54 419,188.53 419.5,187.78 420,188.2 420.5,188.26 421,188.68 421.5,188.87 422,188.81 422.5,188.66 423,188.81 423.5,188.7 424,189.05 424.5,189.01 425,188.94 425.5,188.8 426,188.66 426.5,188.06 427,188.12 427.5,188.23 428,188.16 428.5,188.55 429,188.6 429.5,188.88 430,188.53 430.5,189.08 431,188.59 431.5,188.77 432,188.69 432.5,189.11 433,188.65 433.5,188.62 434,188.39 434.5,188.52 435,188.28 435.5,188.45 436,188.16 436.5,189.04 437,188.62 437.5,189.02 438,188.78 438.5,188.72 439,188.37 439.5,187.7 440,187.48 440.5,185.05 441,183.02 441.5,182.95 442,183.22 442.5,184.84 443,187.44 443.5,187.81 444,188.09 444.5,188.66 445,189.08 445.5,188.66 446,188.25 446.5,188.34 447,188.23 447.5,188.17 448,188.04 448.5,188.18 449,188.12 449.5,188.27 450,188.43 450.5,188.72 451,188.74 451.5,188.78 452,188.69 452.5,188.58 453,188.76 453.5,188.35 454,188.66 454.5,188.74 455,188.68 455.5,188.59 456,188.63 456.5,188.3 457,188.53 457.5,188.12 458,188.59 458.5,188.94 459,189.06 459.5,188.94 460,188.22 460.5,188.62 461,188.25 461.5,188.25 462,188.35 462.5,188.46 463,188.49 463.5,188.73 464,188.67 464.5,188.97 465,188.72 465.5,189.1 466,188.95 466.5,188.45 467,188.54 467.5,188.72 468,188.71 468.5,188.33 469,188.42 469.5,188.38 470,188.24 470.5,187.96 471,188.22 471.5,188.58 472,188.56 472.5,188.97 473,189.09 473.5,188.88 474,188.81 474.5,188.87 475,188.34 475.5,188.51 476,188.36 476.5,188.16 477,188.56 477.5,188.68 478,188.83 478.5,188.28 479,188.35 479.5,188.46 480,189.05 480.5,189.16 L480.5,189.3 Z" fill="#ee6a6c"/>
<line x1="71" y1="217.5" x2="480.5" y2="217.5" stroke="#9cc6c8" stroke-width="1.0" />
<path d="M71,217.5 L71,216.6 71.5,216.88 72,216.49 72.5,216.82 73,216.49 73.5,216.59 74,216.61 74.5,216.69 75,216.8 75.5,217.1 76,217.19 76.5,216.96 77,216.29 77.5,216.3 78,216.23 78.5,215.64 79,215.78 79.5,216.13 80,216.86 80.5,216.65 81,216.87 81.5,217.04 82,216.81 82.5,216.87 83,217.25 83.5,216.64 84,216.94 84.5,216.86 85,216.31 85.5,215.67 86,215.69 86.5,216.22 87,216.55 87.5,216.94 88,217.16 88.5,217.18 89,217.24 89.5,217.14 90,216.77 90.5,216.14 91,216.08 91.5,216.18 92,216.87 92.5,216.57 93,216.98 93.5,217.06 94,216.95 94.5,216.75 95,216.7 95.5,216.66 96,217.08 96.5,217.18 97,217.08 97.5,217.12 98,216.45 98.5,216.89 99,216.69 99.5,216.39 100,215.96 100.5,216.81 101,216.67 101.5,216.8 102,215.98 102.5,216.5 103,216.58 103.5,216.64 104,216.57 104.5,217.31 105,216.99 105.5,216.05 106,216.82 106.5,216.98 107,216.19 107.5,216.72 108,216.48 108.5,216.77 109,217.13 109.5,217.06 110,217 110.5,216.71 111,216.84 111.5,216.53 112,216.56 112.5,216.3 113,216.27 113.5,216.04 114,216.46 114.5,215.93 115,215.79 115.5,215.77 116,216.03 116.5,216.58 117,216.37 117.5,216.43 118,216.34 118.5,216.98 119,216.75 119.5,216.6 120,216.25 120.5,216.83 121,216.18 121.5,216.76 122,216.84 122.5,216.84 123,216.86 123.5,217.09 124,217.15 124.5,217.25 125,217.03 125.5,217.2 126,216 126.5,216.37 127,215.97 127.5,216.44 128,216.28 128.5,215.73 129,215.98 129.5,215.73 130,216.26 130.5,216.55 131,216.08 131.5,216.26 132,216.22 132.5,216.65 133,217.04 133.5,216.9 134,216.97 134.5,216.74 135,216.03 135.5,216.38 136,216 136.5,216.15 137,217.06 137.5,217.18 138,217.27 138.5,217.34 139,216.94 139.5,216.68 140,216.47 140.5,216.78 141,216.3 141.5,216.99 142,216.69 142.5,216.2 143,216.48 143.5,216.29 144,216.54 144.5,217.1 145,216.84 145.5,216.57 146,216.36 146.5,216.35 147,216.44 147.5,216.39 148,216.29 148.5,216.35 149,215.89 149.5,216.17 150,216.07 150.5,216.32 151,216.14 151.5,216.45 152,216.31 152.5,216.2 153,216.63 153.5,216.98 154,216.71 154.5,216.51 155,216.82 155.5,216.03 156,216.23 156.5,216.47 157,216.68 157.5,216.33 158,216.63 158.5,216.53 159,216.78 159.5,217.12 160,216.99 160.5,216.95 161,216.65 161.5,216.52 162,216 162.5,215.83 163,215.82 163.5,216.04 164,216.88 164.5,216.76 165,217.23 165.5,216.53 166,216.65 166.5,216.12 167,216.15 167.5,216.09 168,215.93 168.5,216.09 169,216.81 169.5,216.47 170,216.11 170.5,216.27 171,216.73 171.5,216.68 172,216.35 172.5,216.5 173,216.51 173.5,216.8 174,217.13 174.5,217.11 175,216.94 175.5,216.61 176,216.8 176.5,216.05 177,215.6 177.5,216.39 178,216.99 178.5,216.68 179,216.78 179.5,216.81 180,217.16 180.5,216.93 181,216.82 181.5,216.97 182,216.89 182.5,216.18 183,216.4 183.5,216.16 184,216.37 184.5,216.72 185,217.08 185.5,216.86 186,216.87 186.5,216.73 187,216.77 187.5,216.54 188,216.97 188.5,216.5 189,216.51 189.5,215.93 190,216.14 190.5,216.19 191,216.4 191.5,216.36 192,216.42 192.5,216.79 193,216.67 193.5,217.18 194,217.39 194.5,217.1 195,216.99 195.5,216.95 196,216.28 196.5,216.71 197,216.7 197.5,216.44 198,216.68 198.5,216.2 199,216.73 199.5,216.26 200,216.79 200.5,217.19 201,217.37 201.5,216.88 202,216.95 202.5,216.75 203,216.4 203.5,215.84 204,216.22 204.5,216.16 205,216.72 205.5,216.62 206,216.34 206.5,216.36 207,216.58 207.5,216.82 208,217.18 208.5,217.11 209,216.59 209.5,216.6 210,216.57 210.5,216.61 211,216.86 211.5,216.35 212,216.03 212.5,215.82 213,216.16 213.5,216.16 214,216.8 214.5,217.13 215,216.92 215.5,216.28 216,216.15 216.5,216.13 217,216.58 217.5,216.68 218,216.58 218.5,216.41 219,215.18 219.5,216.32 220,216.63 220.5,217.14 221,217.16 221.5,216.62 222,216.35 222.5,216.9 223,217.15 223.5,216.52 224,215.69 224.5,215.97 225,215.52 225.5,215.79 226,216.2 226.5,216.33 227,216.24 227.5,216.15 228,216.31 228.5,216.44 229,216.55 229.5,216.93 230,217.25 230.5,216.46 231,215.51 231.5,215.16 232,215.12 232.5,214.59 233,214.02 233.5,214.35 234,214.55 234.5,214.58 235,214.34 235.5,214.4 236,213.16 236.5,210.09 237,209.12 237.5,209.04 238,210.24 238.5,213.36 239,215.27 239.5,215.38 240,215.76 240.5,216.37 241,216.94 241.5,217.03 242,216.98 242.5,216.66 243,216.87 243.5,216.43 244,215.91 244.5,215.42 245,215.04 245.5,212.14 246,211.16 246.5,210.09 247,210.37 247.5,210.9 248,211.39 248.5,210.85 249,209.2 249.5,207.76 250,207.39 250.5,207.96 251,209.68 251.5,210.6 252,210.73 252.5,211.01 253,212.56 253.5,213.61 254,213.64 254.5,214.31 255,215.25 255.5,215.59 256,216.05 256.5,216.82 257,217.17 257.5,216.82 258,216.71 258.5,216.3 259,216.84 259.5,216.95 260,216.45 260.5,215.96 261,216.29 261.5,216.44 262,216.41 262.5,216.69 263,217.23 263.5,217.18 264,217.15 264.5,217.08 265,216.64 265.5,216.62 266,216.25 266.5,215.87 267,216.36 267.5,215.93 268,216.23 268.5,216.68 269,216.81 269.5,216.36 270,216.44 270.5,216.54 271,216.39 271.5,215.88 272,216.27 272.5,216.53 273,216.76 273.5,216.36 274,215.85 274.5,216.04 275,216.11 275.5,216.5 276,216.35 276.5,216.7 277,216.62 277.5,216.93 278,216.87 278.5,216.94 279,216.92 279.5,216.7 280,216.41 280.5,215.5 281,215.81 281.5,216.44 282,216.88 282.5,217.04 283,217.07 283.5,217.06 284,216.44 284.5,216.41 285,216.59 285.5,216.89 286,217.14 286.5,216.91 287,216.05 287.5,216.44 288,215.78 288.5,216.27 289,216.02 289.5,216.43 290,216.78 290.5,216.76 291,216.47 291.5,216.22 292,216.42 292.5,216.29 293,216.21 293.5,216.15 294,215.93 294.5,215.92 295,216.34 295.5,216.57 296,216.53 296.5,216.63 297,216.69 297.5,216.58 298,216.74 298.5,216.9 299,216.81 299.5,216.4 300,215.97 300.5,216.06 301,215.98 301.5,215.79 302,216.12 302.5,215.99 303,216.26 303.5,216.35 304,216.94 304.5,216.72 305,216.81 305.5,216.48 306,216.42 306.5,216.4 307,216.16 307.5,217.01 308,216.93 308.5,216.34 309,216.74 309.5,216.39 310,216.44 310.5,216.93 311,216.77 311.5,216.78 312,216.43 312.5,216.61 313,216.7 313.5,216.55 314,217.18 314.5,216.81 315,216.86 315.5,216.49 316,216.1 316.5,215.78 317,216.26 317.5,216.37 318,216.71 318.5,216.68 319,216.06 319.5,215.75 320,215.23 320.5,214.7 321,214.48 321.5,214.12 322,213.37 322.5,213.47 323,212.88 323.5,211.2 324,210.21 324.5,208.89 325,202.32 325.5,194.96 326,194.72 326.5,195.07 327,196.76 327.5,204.27 328,209.59 328.5,209.26 329,209.98 329.5,209.76 330,210.35 330.5,211.75 331,214.28 331.5,215.03 332,214.82 332.5,214.82 333,215.03 333.5,215.13 334,214.84 334.5,214.83 335,214.57 335.5,214.44 336,213.93 336.5,213.81 337,213.44 337.5,209.08 338,206.46 338.5,205.96 339,207.14 339.5,210.47 340,212.56 340.5,212.69 341,213.27 341.5,213.51 342,214.32 342.5,213.95 343,213.57 343.5,214.08 344,214.52 344.5,214.34 345,213.98 345.5,214.04 346,214.4 346.5,214.61 347,214.52 347.5,214.73 348,214.55 348.5,214.36 349,214.19 349.5,214.42 350,214.15 350.5,214.13 351,213.64 351.5,209.79 352,207.58 352.5,207.45 353,207.56 353.5,209.68 354,212.54 354.5,212.56 355,212.76 355.5,212.85 356,213.68 356.5,214.44 357,214.63 357.5,214.69 358,214.69 358.5,214.59 359,214.76 359.5,214.93 360,215.35 360.5,215.28 361,215.54 361.5,215.4 362,214.75 362.5,215.16 363,214.57 363.5,214.43 364,214.18 364.5,214.47 365,214.32 365.5,213.94 366,213.96 366.5,214.05 367,211.74 367.5,210.68 368,210.94 368.5,211.31 369,213.81 369.5,213.67 370,213.79 370.5,213.84 371,213.32 371.5,213.72 372,213.44 372.5,213.7 373,213.42 373.5,214.25 374,214.61 374.5,214.67 375,214.78 375.5,214.7 376,214.96 376.5,214.77 377,214.74 377.5,215.22 378,212.69 378.5,212.19 379,212.2 379.5,212.78 380,215.02 380.5,215 381,214.68 381.5,215.34 382,215.39 382.5,214.82 383,215.09 383.5,215.12 384,214.93 384.5,214.87 385,213.87 385.5,214.59 386,214.45 386.5,214.75 387,214.66 387.5,214.77 388,214.9 388.5,214.13 389,213.79 389.5,213.58 390,213.44 390.5,213.92 391,215.04 391.5,214.95 392,214.95 392.5,214.89 393,214.71 393.5,215.18 394,215.22 394.5,215.09 395,215.45 395.5,215.73 396,216 396.5,216.13 397,215.99 397.5,215.65 398,215.87 398.5,215.17 399,215.45 399.5,214.99 400,215.44 400.5,216.24 401,217 401.5,217.02 402,216.85 402.5,216.48 403,216.9 403.5,217.15 404,216.81 404.5,216.5 405,216.91 405.5,216.62 406,216.6 406.5,216.3 407,216.42 407.5,216.44 408,216.8 408.5,216.71 409,216.95 409.5,217 410,216.39 410.5,216.4 411,216.47 411.5,216.42 412,216.47 412.5,216.47 413,216.29 413.5,216.24 414,215.85 414.5,215.98 415,216.54 415.5,216.45 416,216.88 416.5,217.14 417,216.95 417.5,217.11 418,217.23 418.5,217.22 419,217 419.5,216.77 420,216.26 420.5,216.25 421,216.02 421.5,216.7 422,216.89 422.5,216.86 423,216.38 423.5,216.26 424,217.09 424.5,216.76 425,217.07 425.5,216.08 426,215.98 426.5,216.07 427,216.02 427.5,216.19 428,215.64 428.5,215.95 429,216.34 429.5,217.03 430,217.24 430.5,217.31 431,217.05 431.5,216.69 432,216.71 432.5,215.96 433,215.76 433.5,216.07 434,216.3 434.5,216.5 435,216.23 435.5,217.05 436,216.83 436.5,216.77 437,216.62 437.5,216.59 438,216.87 438.5,216.85 439,216.22 439.5,215.63 440,214.6 440.5,211.62 441,207.26 441.5,205.55 442,207.19 442.5,210.91 443,214.64 443.5,215.07 444,216.5 444.5,216.8 445,216.92 445.5,216.65 446,216.88 446.5,216.51 447,216.38 447.5,216.3 448,216.18 448.5,216.73 449,216.16 449.5,215.97 450,216.39 450.5,216.64 451,216.79 451.5,217.05 452,217.04 452.5,216.9 453,217.06 453.5,216.91 454,216.79 454.5,216.63 455,216.63 455.5,216.62 456,216.32 456.5,216.45 457,216.21 457.5,216.59 458,216.9 458.5,216.21 459,216.34 459.5,216.17 460,216.29 460.5,216.4 461,216.77 461.5,216.33 462,216.37 462.5,215.59 463,216.27 463.5,215.99 464,216.3 464.5,216.2 465,216.29 465.5,216.46 466,216.82 466.5,216.8 467,216.81 467.5,216.76 468,216.43 468.5,216.15 469,216.85 469.5,216.69 470,216.38 470.5,216.6 471,216.08 471.5,216.05 472,216.32 472.5,215.84 473,217.24 473.5,217.05 474,216.75 474.5,216.28 475,216.53 475.5,216.31 476,215.98 476.5,216.35 477,216.26 477.5,216.62 478,216.07 478.5,216.52 479,216.24 479.5,216.69 480,216.85 480.5,217.08 L480.5,217.5 Z" fill="#17a0a8"/>
<rect x="70.4" y="225.6" width="410.4" height="2.1" fill="#c0c0c0"/>
<text x="67" y="201.8" font-size="9.4" text-anchor="end" fill="#222">Itgb7</text>
<line x1="241.8" y1="71.6" x2="480.4" y2="71.6" stroke="#22308f" stroke-width="0.7" />
<polygon points="241.3,71.6 243,69.8 243,68.9 249.3,68.9 249.3,74.3 243,74.3 243,73.4" fill="#22308f"/>
<polyline points="255.75,70.6 254.75,71.6 255.75,72.6" fill="none" stroke="#22308f" stroke-width="0.5"/>
<polyline points="265.25,70.6 264.25,71.6 265.25,72.6" fill="none" stroke="#22308f" stroke-width="0.5"/>
<polyline points="274.75,70.6 273.75,71.6 274.75,72.6" fill="none" stroke="#22308f" stroke-width="0.5"/>
<polyline points="284.25,70.6 283.25,71.6 284.25,72.6" fill="none" stroke="#22308f" stroke-width="0.5"/>
<polyline points="293.75,70.6 292.75,71.6 293.75,72.6" fill="none" stroke="#22308f" stroke-width="0.5"/>
<polyline points="303.25,70.6 302.25,71.6 303.25,72.6" fill="none" stroke="#22308f" stroke-width="0.5"/>
<polyline points="312.75,70.6 311.75,71.6 312.75,72.6" fill="none" stroke="#22308f" stroke-width="0.5"/>
<polyline points="322.25,70.6 321.25,71.6 322.25,72.6" fill="none" stroke="#22308f" stroke-width="0.5"/>
<rect x="322.75" y="69.1" width="1.3" height="5" fill="#22308f"/>
<rect x="328.55" y="69.1" width="1.3" height="5" fill="#22308f"/>
<rect x="341.65" y="69.1" width="1.3" height="5" fill="#22308f"/>
<rect x="363.95" y="69.1" width="1.3" height="5" fill="#22308f"/>
<rect x="379.35" y="69.1" width="1.3" height="5" fill="#22308f"/>
<rect x="390.35" y="69.1" width="1.3" height="5" fill="#22308f"/>
<rect x="395.15" y="69.1" width="1.3" height="5" fill="#22308f"/>
<rect x="401.85" y="69.1" width="1.3" height="5" fill="#22308f"/>
<rect x="353" y="69.1" width="2.4" height="5" fill="#22308f"/>
<rect x="368.5" y="69.1" width="1.5" height="5" fill="#22308f"/>
<rect x="388.5" y="69.1" width="1.5" height="5" fill="#22308f"/>
<rect x="425.6" y="69.8" width="5.7" height="3.6" fill="#22308f"/>
<rect x="434.6" y="69.8" width="2.4" height="3.6" fill="#22308f"/>
<rect x="445.8" y="70.1" width="1.9" height="3" fill="#22308f"/>
<polyline points="410.75,70.6 409.75,71.6 410.75,72.6" fill="none" stroke="#22308f" stroke-width="0.5"/>
<polyline points="420.25,70.6 419.25,71.6 420.25,72.6" fill="none" stroke="#22308f" stroke-width="0.5"/>
<polyline points="429.75,70.6 428.75,71.6 429.75,72.6" fill="none" stroke="#22308f" stroke-width="0.5"/>
<polyline points="439.25,70.6 438.25,71.6 439.25,72.6" fill="none" stroke="#22308f" stroke-width="0.5"/>
<polyline points="448.75,70.6 447.75,71.6 448.75,72.6" fill="none" stroke="#22308f" stroke-width="0.5"/>
<polyline points="458.25,70.6 457.25,71.6 458.25,72.6" fill="none" stroke="#22308f" stroke-width="0.5"/>
<polyline points="467.75,70.6 466.75,71.6 467.75,72.6" fill="none" stroke="#22308f" stroke-width="0.5"/>
<polyline points="477.25,70.6 476.25,71.6 477.25,72.6" fill="none" stroke="#22308f" stroke-width="0.5"/>
<text x="245.5" y="79.6" font-size="3.6" text-anchor="middle" fill="#333">XM_017173654.1</text>
<text x="339" y="79.6" font-size="3.6" text-anchor="middle" fill="#333">Itgb1</text>
<text x="441.5" y="79.6" font-size="3.6" text-anchor="middle" fill="#333">XR_001779734.1</text>
<line x1="117.3" y1="150.8" x2="405" y2="150.8" stroke="#22308f" stroke-width="0.7" />
<rect x="117.1" y="149.3" width="1" height="3" fill="#22308f"/>
<polyline points="123.75,149.8 122.75,150.8 123.75,151.8" fill="none" stroke="#22308f" stroke-width="0.5"/>
<polyline points="133.25,149.8 132.25,150.8 133.25,151.8" fill="none" stroke="#22308f" stroke-width="0.5"/>
<polyline points="142.75,149.8 141.75,150.8 142.75,151.8" fill="none" stroke="#22308f" stroke-width="0.5"/>
<polyline points="152.25,149.8 151.25,150.8 152.25,151.8" fill="none" stroke="#22308f" stroke-width="0.5"/>
<polyline points="161.75,149.8 160.75,150.8 161.75,151.8" fill="none" stroke="#22308f" stroke-width="0.5"/>
<polyline points="171.25,149.8 170.25,150.8 171.25,151.8" fill="none" stroke="#22308f" stroke-width="0.5"/>
<polyline points="180.75,149.8 179.75,150.8 180.75,151.8" fill="none" stroke="#22308f" stroke-width="0.5"/>
<polyline points="190.25,149.8 189.25,150.8 190.25,151.8" fill="none" stroke="#22308f" stroke-width="0.5"/>
<polyline points="199.75,149.8 198.75,150.8 199.75,151.8" fill="none" stroke="#22308f" stroke-width="0.5"/>
<polyline points="209.25,149.8 208.25,150.8 209.25,151.8" fill="none" stroke="#22308f" stroke-width="0.5"/>
<rect x="213.15" y="148.3" width="1.3" height="5" fill="#22308f"/>
<rect x="216.65" y="148.3" width="1.3" height="5" fill="#22308f"/>
<rect x="246.45" y="148.3" width="1.3" height="5" fill="#22308f"/>
<rect x="256.05" y="148.3" width="1.3" height="5" fill="#22308f"/>
<rect x="267.65" y="148.3" width="1.3" height="5" fill="#22308f"/>
<rect x="279.15" y="148.3" width="1.3" height="5" fill="#22308f"/>
<rect x="287.45" y="148.3" width="1.3" height="5" fill="#22308f"/>
<rect x="329.75" y="148.3" width="1.3" height="5" fill="#22308f"/>
<rect x="340.15" y="148.3" width="1.3" height="5" fill="#22308f"/>
<rect x="345.35" y="148.3" width="1.3" height="5" fill="#22308f"/>
<rect x="357.85" y="148.3" width="1.3" height="5" fill="#22308f"/>
<rect x="360.85" y="148.3" width="1.3" height="5" fill="#22308f"/>
<rect x="363.85" y="148.3" width="1.3" height="5" fill="#22308f"/>
<rect x="370.55" y="148.3" width="1.3" height="5" fill="#22308f"/>
<rect x="400.15" y="148.3" width="1.3" height="5" fill="#22308f"/>
<polyline points="221.75,149.8 222.75,150.8 221.75,151.8" fill="none" stroke="#22308f" stroke-width="0.5"/>
<polyline points="231.25,149.8 232.25,150.8 231.25,151.8" fill="none" stroke="#22308f" stroke-width="0.5"/>
<polyline points="240.75,149.8 241.75,150.8 240.75,151.8" fill="none" stroke="#22308f" stroke-width="0.5"/>
<polyline points="250.25,149.8 251.25,150.8 250.25,151.8" fill="none" stroke="#22308f" stroke-width="0.5"/>
<polyline points="259.75,149.8 260.75,150.8 259.75,151.8" fill="none" stroke="#22308f" stroke-width="0.5"/>
<polyline points="269.25,149.8 270.25,150.8 269.25,151.8" fill="none" stroke="#22308f" stroke-width="0.5"/>
<polyline points="278.75,149.8 279.75,150.8 278.75,151.8" fill="none" stroke="#22308f" stroke-width="0.5"/>
<polyline points="288.25,149.8 289.25,150.8 288.25,151.8" fill="none" stroke="#22308f" stroke-width="0.5"/>
<polyline points="297.75,149.8 298.75,150.8 297.75,151.8" fill="none" stroke="#22308f" stroke-width="0.5"/>
<polyline points="307.25,149.8 308.25,150.8 307.25,151.8" fill="none" stroke="#22308f" stroke-width="0.5"/>
<polyline points="316.75,149.8 317.75,150.8 316.75,151.8" fill="none" stroke="#22308f" stroke-width="0.5"/>
<polyline points="326.25,149.8 327.25,150.8 326.25,151.8" fill="none" stroke="#22308f" stroke-width="0.5"/>
<polyline points="335.75,149.8 336.75,150.8 335.75,151.8" fill="none" stroke="#22308f" stroke-width="0.5"/>
<polyline points="345.25,149.8 346.25,150.8 345.25,151.8" fill="none" stroke="#22308f" stroke-width="0.5"/>
<polyline points="354.75,149.8 355.75,150.8 354.75,151.8" fill="none" stroke="#22308f" stroke-width="0.5"/>
<polyline points="364.25,149.8 365.25,150.8 364.25,151.8" fill="none" stroke="#22308f" stroke-width="0.5"/>
<polyline points="373.75,149.8 374.75,150.8 373.75,151.8" fill="none" stroke="#22308f" stroke-width="0.5"/>
<polyline points="383.25,149.8 384.25,150.8 383.25,151.8" fill="none" stroke="#22308f" stroke-width="0.5"/>
<polyline points="392.75,149.8 393.75,150.8 392.75,151.8" fill="none" stroke="#22308f" stroke-width="0.5"/>
<polygon points="404.5,148.3 408,150.8 404.5,153.3" fill="#22308f"/>
<rect x="403.5" y="148.3" width="2" height="5" fill="#22308f"/>
<text x="262.5" y="159.2" font-size="3.6" text-anchor="middle" fill="#333">Itgb2</text>
<rect x="203" y="140.8" width="2.4" height="3" fill="#22308f"/>
<rect x="70.4" y="230" width="40.8" height="2.6" fill="#22308f"/>
<line x1="117" y1="231.3" x2="480.4" y2="231.3" stroke="#22308f" stroke-width="0.7" />
<polygon points="117.2,231.3 119.2,229.2 120.2,229.2 120.2,233.4 119.2,233.4" fill="#22308f"/>
<rect x="124.05" y="229.1" width="1.9" height="4.4" fill="#22308f"/>
<rect x="129.25" y="229.1" width="1.9" height="4.4" fill="#22308f"/>
<rect x="134.45" y="229.1" width="1.9" height="4.4" fill="#22308f"/>
<rect x="141.35" y="229.1" width="1.9" height="4.4" fill="#22308f"/>
<rect x="151.75" y="229.1" width="1.9" height="4.4" fill="#22308f"/>
<rect x="160.75" y="229.1" width="1.9" height="4.4" fill="#22308f"/>
<polyline points="166.75,230.3 167.75,231.3 166.75,232.3" fill="none" stroke="#22308f" stroke-width="0.5"/>
<polyline points="176.25,230.3 177.25,231.3 176.25,232.3" fill="none" stroke="#22308f" stroke-width="0.5"/>
<polyline points="185.75,230.3 186.75,231.3 185.75,232.3" fill="none" stroke="#22308f" stroke-width="0.5"/>
<polyline points="195.25,230.3 196.25,231.3 195.25,232.3" fill="none" stroke="#22308f" stroke-width="0.5"/>
<rect x="201.05" y="229" width="1.7" height="4.6" fill="#22308f"/>
<rect x="204.85" y="229" width="1.7" height="4.6" fill="#22308f"/>
<rect x="209.3" y="229" width="2.2" height="4.6" fill="#22308f"/>
<rect x="219.25" y="229" width="2.5" height="4.6" fill="#22308f"/>
<rect x="232.25" y="229" width="2.3" height="4.6" fill="#22308f"/>
<rect x="235.85" y="229" width="2.3" height="4.6" fill="#22308f"/>
<rect x="275.15" y="229" width="2.5" height="4.6" fill="#22308f"/>
<polyline points="243.75,230.3 244.75,231.3 243.75,232.3" fill="none" stroke="#22308f" stroke-width="0.5"/>
<polyline points="253.25,230.3 254.25,231.3 253.25,232.3" fill="none" stroke="#22308f" stroke-width="0.5"/>
<polyline points="262.75,230.3 263.75,231.3 262.75,232.3" fill="none" stroke="#22308f" stroke-width="0.5"/>
<polyline points="272.25,230.3 273.25,231.3 272.25,232.3" fill="none" stroke="#22308f" stroke-width="0.5"/>
<polyline points="281.75,230.3 282.75,231.3 281.75,232.3" fill="none" stroke="#22308f" stroke-width="0.5"/>
<polyline points="291.25,230.3 292.25,231.3 291.25,232.3" fill="none" stroke="#22308f" stroke-width="0.5"/>
<polyline points="300.75,230.3 301.75,231.3 300.75,232.3" fill="none" stroke="#22308f" stroke-width="0.5"/>
<polyline points="310.25,230.3 311.25,231.3 310.25,232.3" fill="none" stroke="#22308f" stroke-width="0.5"/>
<rect x="313" y="230" width="15.5" height="2.6" fill="#22308f"/>
<rect x="328.5" y="228.8" width="6.5" height="5" fill="#22308f"/>
<rect x="337.3" y="228.8" width="10.4" height="5" fill="#22308f"/>
<rect x="347.7" y="230" width="10.3" height="2.6" fill="#22308f"/>
<polyline points="363.75,230.3 364.75,231.3 363.75,232.3" fill="none" stroke="#22308f" stroke-width="0.5"/>
<polyline points="373.25,230.3 374.25,231.3 373.25,232.3" fill="none" stroke="#22308f" stroke-width="0.5"/>
<rect x="381.2" y="230" width="14.3" height="2.6" fill="#22308f"/>
<rect x="395" y="228.8" width="2.3" height="5" fill="#22308f"/>
<rect x="433.6" y="229" width="2" height="4.6" fill="#22308f"/>
<rect x="441.9" y="229" width="2" height="4.6" fill="#22308f"/>
<rect x="448.6" y="229" width="2" height="4.6" fill="#22308f"/>
<rect x="452" y="229" width="2" height="4.6" fill="#22308f"/>
<rect x="465" y="229" width="2" height="4.6" fill="#22308f"/>
<rect x="475.5" y="229" width="2" height="4.6" fill="#22308f"/>
<polyline points="401.75,230.3 402.75,231.3 401.75,232.3" fill="none" stroke="#22308f" stroke-width="0.5"/>
<polyline points="411.25,230.3 412.25,231.3 411.25,232.3" fill="none" stroke="#22308f" stroke-width="0.5"/>
<polyline points="420.75,230.3 421.75,231.3 420.75,232.3" fill="none" stroke="#22308f" stroke-width="0.5"/>
<polyline points="430.25,230.3 431.25,231.3 430.25,232.3" fill="none" stroke="#22308f" stroke-width="0.5"/>
<text x="83" y="239.6" font-size="3.6" text-anchor="middle" fill="#333">Zfp740</text>
<text x="228.5" y="239.6" font-size="3.6" text-anchor="middle" fill="#333">Itgb7</text>
<text x="335.5" y="239.6" font-size="3.6" text-anchor="middle" fill="#333">Itgb7</text>
<text x="433.7" y="239.6" font-size="3.6" text-anchor="middle" fill="#333">Rarg</text>
<rect x="322.3" y="220.5" width="8.1" height="3.2" fill="#22308f"/>
<rect x="351.8" y="220.5" width="2.4" height="3.2" fill="#22308f"/>
<rect x="69.8" y="2.9" width="413.6" height="238.5" fill="none" stroke="#5a5a5a" stroke-width="1.2"/>
<rect x="78.6" y="305.4" width="8" height="77.6" fill="#fff" stroke="#000" stroke-width="1.5"/>
<rect x="109.7" y="302.2" width="8.2" height="80.8" fill="#fff" stroke="#000" stroke-width="1.5"/>
<rect x="140.8" y="302.2" width="8.2" height="80.8" fill="#fff" stroke="#000" stroke-width="1.5"/>
<circle cx="83.5" cy="298.5" r="2.3" fill="#1ca6b0"/>
<circle cx="82" cy="301.5" r="2.3" fill="#1ca6b0"/>
<circle cx="84.5" cy="303" r="2.3" fill="#1ca6b0"/>
<circle cx="86" cy="305" r="2.3" fill="#1ca6b0"/>
<circle cx="81.3" cy="306" r="2.3" fill="#1ca6b0"/>
<circle cx="83.5" cy="307.5" r="2.3" fill="#1ca6b0"/>
<circle cx="86.3" cy="308" r="2.3" fill="#1ca6b0"/>
<circle cx="80.8" cy="309.2" r="2.3" fill="#1ca6b0"/>
<circle cx="82.3" cy="313.8" r="2.3" fill="#1ca6b0"/>
<circle cx="84.5" cy="305.5" r="2.3" fill="#1ca6b0"/>
<circle cx="112.5" cy="301.5" r="2.3" fill="#1ca6b0"/>
<circle cx="115.5" cy="301.8" r="2.3" fill="#1ca6b0"/>
<circle cx="111.5" cy="303.5" r="2.3" fill="#1ca6b0"/>
<circle cx="116.8" cy="303.5" r="2.3" fill="#1ca6b0"/>
<circle cx="113.8" cy="304.5" r="2.3" fill="#1ca6b0"/>
<circle cx="111.8" cy="306.8" r="2.3" fill="#1ca6b0"/>
<circle cx="114.5" cy="306.5" r="2.3" fill="#1ca6b0"/>
<circle cx="117" cy="305.5" r="2.3" fill="#1ca6b0"/>
<circle cx="142.8" cy="301.5" r="2.3" fill="#1ca6b0"/>
<circle cx="145.5" cy="301.2" r="2.3" fill="#1ca6b0"/>
<circle cx="147.5" cy="302" r="2.3" fill="#1ca6b0"/>
<circle cx="143.5" cy="303.2" r="2.3" fill="#1ca6b0"/>
<circle cx="146.5" cy="303.5" r="2.3" fill="#1ca6b0"/>
<circle cx="144.8" cy="302.5" r="2.3" fill="#1ca6b0"/>
<line x1="62" y1="289" x2="62" y2="383.75" stroke="#000" stroke-width="1.4" />
<line x1="57" y1="289" x2="62" y2="289" stroke="#000" stroke-width="1.4" />
<text x="56.2" y="293.9" font-size="11" font-weight="bold" text-anchor="end" fill="#000" class="b" >10,000</text>
<line x1="57" y1="312.5" x2="62" y2="312.5" stroke="#000" stroke-width="1.4" />
<text x="56.2" y="317.4" font-size="11" font-weight="bold" text-anchor="end" fill="#000" class="b" >1,000</text>
<line x1="57" y1="336" x2="62" y2="336" stroke="#000" stroke-width="1.4" />
<text x="56.2" y="340.9" font-size="11" font-weight="bold" text-anchor="end" fill="#000" class="b" >100</text>
<line x1="57" y1="359.5" x2="62" y2="359.5" stroke="#000" stroke-width="1.4" />
<text x="56.2" y="364.4" font-size="11" font-weight="bold" text-anchor="end" fill="#000" class="b" >10</text>
<line x1="57" y1="383" x2="62" y2="383" stroke="#000" stroke-width="1.4" />
<text x="56.2" y="387.9" font-size="11" font-weight="bold" text-anchor="end" fill="#000" class="b" >1</text>
<line x1="61.3" y1="383" x2="155" y2="383" stroke="#000" stroke-width="1.4" />
<line x1="77.2" y1="383" x2="77.2" y2="387.8" stroke="#000" stroke-width="1.4" />
<line x1="108.4" y1="383" x2="108.4" y2="387.8" stroke="#000" stroke-width="1.4" />
<line x1="139.5" y1="383" x2="139.5" y2="387.8" stroke="#000" stroke-width="1.4" />
<polyline points="70.3,369.7 70.3,293.6 80.6,293.6 80.6,296.2" fill="none" stroke="#000" stroke-width="1.5"/>
<polyline points="103.4,369.7 103.4,291.6 115.3,291.6 115.3,294.2" fill="none" stroke="#000" stroke-width="1.5"/>
<polyline points="135.4,369.7 135.4,291.8 147,291.8 147,295" fill="none" stroke="#000" stroke-width="1.5"/>
<text x="77.15" y="295.9" font-size="14" font-weight="bold" text-anchor="middle" fill="#000" class="b" letter-spacing="1.5">***</text>
<text x="108.95" y="293.6" font-size="14" font-weight="bold" text-anchor="middle" fill="#000" class="b" letter-spacing="1.5">***</text>
<text x="142.75" y="294" font-size="14" font-weight="bold" text-anchor="middle" fill="#000" class="b" letter-spacing="1.5">***</text>
<text transform="translate(12.4,342.4) rotate(-90)" font-size="11.3" font-weight="bold" text-anchor="middle" fill="#000" class="b">Integrin β1 [MFI]</text>
<rect x="70.2" y="463.5" width="8.6" height="32.9" fill="#fff" stroke="#000" stroke-width="1.5"/>
<rect x="80.8" y="457.7" width="8.8" height="38.7" fill="#fff" stroke="#000" stroke-width="1.5"/>
<rect x="101.4" y="475.4" width="8.8" height="21" fill="#fff" stroke="#000" stroke-width="1.5"/>
<rect x="112.4" y="469.6" width="8.9" height="26.8" fill="#fff" stroke="#000" stroke-width="1.5"/>
<rect x="133.1" y="474.6" width="8.6" height="21.8" fill="#fff" stroke="#000" stroke-width="1.5"/>
<rect x="144.3" y="469.6" width="8.9" height="26.8" fill="#fff" stroke="#000" stroke-width="1.5"/>
<line x1="137.4" y1="467.3" x2="137.4" y2="474.6" stroke="#8c8c8c" stroke-width="0.9" />
<line x1="134.7" y1="467.3" x2="140.1" y2="467.3" stroke="#4a4a4a" stroke-width="1.1" />
<circle cx="74.5" cy="450.5" r="2.3" fill="#f0766f"/>
<circle cx="73" cy="455" r="2.3" fill="#f0766f"/>
<circle cx="76.5" cy="457.5" r="2.3" fill="#f0766f"/>
<circle cx="72.3" cy="460.5" r="2.3" fill="#f0766f"/>
<circle cx="75" cy="463" r="2.3" fill="#f0766f"/>
<circle cx="77.5" cy="462" r="2.3" fill="#f0766f"/>
<circle cx="73.5" cy="466.5" r="2.3" fill="#f0766f"/>
<circle cx="76" cy="468" r="2.3" fill="#f0766f"/>
<circle cx="72.5" cy="471.5" r="2.3" fill="#f0766f"/>
<circle cx="75.5" cy="473" r="2.3" fill="#f0766f"/>
<circle cx="86.5" cy="443.5" r="2.3" fill="#1ca6b0"/>
<circle cx="84" cy="446.5" r="2.3" fill="#1ca6b0"/>
<circle cx="88" cy="449" r="2.3" fill="#1ca6b0"/>
<circle cx="83" cy="451.5" r="2.3" fill="#1ca6b0"/>
<circle cx="86.5" cy="453.5" r="2.3" fill="#1ca6b0"/>
<circle cx="84.5" cy="456.5" r="2.3" fill="#1ca6b0"/>
<circle cx="88.5" cy="459.5" r="2.3" fill="#1ca6b0"/>
<circle cx="82.5" cy="460.5" r="2.3" fill="#1ca6b0"/>
<circle cx="86" cy="464" r="2.3" fill="#1ca6b0"/>
<circle cx="84.5" cy="468.3" r="2.3" fill="#1ca6b0"/>
<circle cx="105.6" cy="461.5" r="2.3" fill="#f0766f"/>
<circle cx="105.2" cy="467.3" r="2.3" fill="#f0766f"/>
<circle cx="106.5" cy="471" r="2.3" fill="#f0766f"/>
<circle cx="103.8" cy="474" r="2.3" fill="#f0766f"/>
<circle cx="107.5" cy="475" r="2.3" fill="#f0766f"/>
<circle cx="105" cy="477.5" r="2.3" fill="#f0766f"/>
<circle cx="105.6" cy="483.8" r="2.3" fill="#f0766f"/>
<circle cx="105.6" cy="488.5" r="2.3" fill="#f0766f"/>
<circle cx="117.7" cy="457.2" r="2.3" fill="#1ca6b0"/>
<circle cx="115.8" cy="460" r="2.3" fill="#1ca6b0"/>
<circle cx="118.7" cy="462.5" r="2.3" fill="#1ca6b0"/>
<circle cx="114.8" cy="465" r="2.3" fill="#1ca6b0"/>
<circle cx="117" cy="466.5" r="2.3" fill="#1ca6b0"/>
<circle cx="119.5" cy="468.5" r="2.3" fill="#1ca6b0"/>
<circle cx="116" cy="471" r="2.3" fill="#1ca6b0"/>
<circle cx="117.5" cy="473.5" r="2.3" fill="#1ca6b0"/>
<circle cx="115.5" cy="477" r="2.3" fill="#1ca6b0"/>
<circle cx="137.9" cy="460" r="2.3" fill="#f0766f"/>
<circle cx="136" cy="470" r="2.3" fill="#f0766f"/>
<circle cx="139" cy="472.5" r="2.3" fill="#f0766f"/>
<circle cx="136.8" cy="475.5" r="2.3" fill="#f0766f"/>
<circle cx="140" cy="477.5" r="2.3" fill="#f0766f"/>
<circle cx="137" cy="482.7" r="2.3" fill="#f0766f"/>
<circle cx="134.8" cy="476.5" r="2.3" fill="#f0766f"/>
<circle cx="148.5" cy="461.8" r="2.3" fill="#1ca6b0"/>
<circle cx="146.5" cy="464" r="2.3" fill="#1ca6b0"/>
<circle cx="150.5" cy="465" r="2.3" fill="#1ca6b0"/>
<circle cx="147.8" cy="466.8" r="2.3" fill="#1ca6b0"/>
<circle cx="145.8" cy="468.5" r="2.3" fill="#1ca6b0"/>
<circle cx="149.5" cy="469.5" r="2.3" fill="#1ca6b0"/>
<circle cx="151.5" cy="468" r="2.3" fill="#1ca6b0"/>
<line x1="64.6" y1="403.5" x2="64.6" y2="497.15" stroke="#000" stroke-width="1.4" />
<line x1="59.6" y1="403.5" x2="64.6" y2="403.5" stroke="#000" stroke-width="1.4" />
<text x="58.8" y="408.4" font-size="11" font-weight="bold" text-anchor="end" fill="#000" class="b" >100,000</text>
<line x1="59.6" y1="496.3" x2="64.6" y2="496.3" stroke="#000" stroke-width="1.4" />
<text x="58.8" y="501.2" font-size="11" font-weight="bold" text-anchor="end" fill="#000" class="b" >10,000</text>
<line x1="63.9" y1="496.4" x2="155.5" y2="496.4" stroke="#000" stroke-width="1.4" />
<line x1="79.8" y1="496.4" x2="79.8" y2="501.2" stroke="#000" stroke-width="1.4" />
<line x1="111" y1="496.4" x2="111" y2="501.2" stroke="#000" stroke-width="1.4" />
<line x1="142.7" y1="496.4" x2="142.7" y2="501.2" stroke="#000" stroke-width="1.4" />
<polyline points="73.5,443.3 73.5,439.4 85.4,439.4 85.4,441.3" fill="none" stroke="#000" stroke-width="1.5"/>
<polyline points="105.2,455.8 105.2,448.5 117.7,448.5 117.7,451" fill="none" stroke="#000" stroke-width="1.5"/>
<polyline points="137.9,455.8 137.9,450.4 149.4,450.4 149.4,452.9" fill="none" stroke="#000" stroke-width="1.5"/>
<text x="80.15" y="440.9" font-size="14" font-weight="bold" text-anchor="middle" fill="#000" class="b" letter-spacing="1.5">***</text>
<text x="113.65" y="450.2" font-size="14" font-weight="bold" text-anchor="middle" fill="#000" class="b" letter-spacing="1.5">***</text>
<text x="143.95" y="452.1" font-size="14" font-weight="bold" text-anchor="middle" fill="#000" class="b" letter-spacing="1.5">**</text>
<text transform="translate(12.4,452.3) rotate(-90)" font-size="11.3" font-weight="bold" text-anchor="middle" fill="#000" class="b">Integrin β2 [MFI]</text>
<rect x="81.4" y="540" width="8.8" height="71.6" fill="#fff" stroke="#000" stroke-width="1.5"/>
<rect x="112.6" y="542" width="8.7" height="69.6" fill="#fff" stroke="#000" stroke-width="1.5"/>
<rect x="144" y="540" width="9" height="71.6" fill="#fff" stroke="#000" stroke-width="1.5"/>
<circle cx="84.5" cy="537.5" r="2.3" fill="#1ca6b0"/>
<circle cx="87.5" cy="537.8" r="2.3" fill="#1ca6b0"/>
<circle cx="83.5" cy="539.5" r="2.3" fill="#1ca6b0"/>
<circle cx="86.8" cy="540.2" r="2.3" fill="#1ca6b0"/>
<circle cx="89" cy="539.3" r="2.3" fill="#1ca6b0"/>
<circle cx="85.3" cy="545.8" r="2.3" fill="#1ca6b0"/>
<circle cx="115" cy="538.8" r="2.3" fill="#1ca6b0"/>
<circle cx="118.2" cy="538.5" r="2.3" fill="#1ca6b0"/>
<circle cx="114.5" cy="541.5" r="2.3" fill="#1ca6b0"/>
<circle cx="117.5" cy="542" r="2.3" fill="#1ca6b0"/>
<circle cx="119.7" cy="540.8" r="2.3" fill="#1ca6b0"/>
<circle cx="116" cy="543.5" r="2.3" fill="#1ca6b0"/>
<circle cx="145.8" cy="537.6" r="2.3" fill="#1ca6b0"/>
<circle cx="148.5" cy="538" r="2.3" fill="#1ca6b0"/>
<circle cx="150.6" cy="539.5" r="2.3" fill="#1ca6b0"/>
<circle cx="147.5" cy="540.5" r="2.3" fill="#1ca6b0"/>
<circle cx="149.8" cy="541.8" r="2.3" fill="#1ca6b0"/>
<line x1="64.5" y1="519.2" x2="64.5" y2="612.35" stroke="#000" stroke-width="1.4" />
<line x1="59.5" y1="519.2" x2="64.5" y2="519.2" stroke="#000" stroke-width="1.4" />
<text x="58.7" y="524.1" font-size="11" font-weight="bold" text-anchor="end" fill="#000" class="b" >100,000</text>
<line x1="59.5" y1="537.7" x2="64.5" y2="537.7" stroke="#000" stroke-width="1.4" />
<text x="58.7" y="542.6" font-size="11" font-weight="bold" text-anchor="end" fill="#000" class="b" >10,000</text>
<line x1="59.5" y1="556.2" x2="64.5" y2="556.2" stroke="#000" stroke-width="1.4" />
<text x="58.7" y="561.1" font-size="11" font-weight="bold" text-anchor="end" fill="#000" class="b" >1,000</text>
<line x1="59.5" y1="574.6" x2="64.5" y2="574.6" stroke="#000" stroke-width="1.4" />
<text x="58.7" y="579.5" font-size="11" font-weight="bold" text-anchor="end" fill="#000" class="b" >100</text>
<line x1="59.5" y1="593" x2="64.5" y2="593" stroke="#000" stroke-width="1.4" />
<text x="58.7" y="597.9" font-size="11" font-weight="bold" text-anchor="end" fill="#000" class="b" >10</text>
<line x1="59.5" y1="611.5" x2="64.5" y2="611.5" stroke="#000" stroke-width="1.4" />
<text x="58.7" y="616.4" font-size="11" font-weight="bold" text-anchor="end" fill="#000" class="b" >1</text>
<line x1="63.8" y1="611.6" x2="157.7" y2="611.6" stroke="#000" stroke-width="1.4" />
<line x1="80" y1="611.6" x2="80" y2="616.4" stroke="#000" stroke-width="1.4" />
<line x1="111.3" y1="611.6" x2="111.3" y2="616.4" stroke="#000" stroke-width="1.4" />
<line x1="143" y1="611.6" x2="143" y2="616.4" stroke="#000" stroke-width="1.4" />
<polyline points="73.1,587 73.1,532.7 84.6,532.7 84.6,535.2" fill="none" stroke="#000" stroke-width="1.5"/>
<polyline points="106.2,587 106.2,532.7 117.7,532.7 117.7,536.2" fill="none" stroke="#000" stroke-width="1.5"/>
<polyline points="137.9,587 137.9,533.7 149.4,533.7 149.4,537.7" fill="none" stroke="#000" stroke-width="1.5"/>
<text x="80.65" y="534.8" font-size="14" font-weight="bold" text-anchor="middle" fill="#000" class="b" letter-spacing="1.5">***</text>
<text x="113.15" y="532.9" font-size="14" font-weight="bold" text-anchor="middle" fill="#000" class="b" letter-spacing="1.5">***</text>
<text x="145.95" y="535.7" font-size="14" font-weight="bold" text-anchor="middle" fill="#000" class="b" letter-spacing="1.5">***</text>
<text transform="translate(12.4,570.8) rotate(-90)" font-size="11.3" font-weight="bold" text-anchor="middle" fill="#000" class="b">Integrin β7 [MFI]</text>
<rect x="246.9" y="362.2" width="8.4" height="20.1" fill="#fff" stroke="#000" stroke-width="1.5"/>
<rect x="258.1" y="316.6" width="8.2" height="65.7" fill="#fff" stroke="#000" stroke-width="1.5"/>
<rect x="289.1" y="325.3" width="7.8" height="57" fill="#fff" stroke="#000" stroke-width="1.5"/>
<rect x="309.8" y="368.5" width="8.3" height="13.8" fill="#fff" stroke="#000" stroke-width="1.5"/>
<rect x="320.2" y="325.3" width="8.2" height="57" fill="#fff" stroke="#000" stroke-width="1.5"/>
<line x1="251.2" y1="345.5" x2="251.2" y2="362.2" stroke="#8c8c8c" stroke-width="0.9" />
<line x1="248.5" y1="345.5" x2="253.9" y2="345.5" stroke="#4a4a4a" stroke-width="1.1" />
<line x1="261.6" y1="307.2" x2="261.6" y2="316.6" stroke="#8c8c8c" stroke-width="0.9" />
<line x1="258.9" y1="307.2" x2="264.3" y2="307.2" stroke="#4a4a4a" stroke-width="1.1" />
<line x1="313.8" y1="350.7" x2="313.8" y2="368.5" stroke="#8c8c8c" stroke-width="0.9" />
<line x1="311.1" y1="350.7" x2="316.5" y2="350.7" stroke="#4a4a4a" stroke-width="1.1" />
<circle cx="251" cy="339.7" r="2.3" fill="#f0766f"/>
<circle cx="251" cy="347.6" r="2.3" fill="#f0766f"/>
<circle cx="251" cy="360.6" r="2.3" fill="#f0766f"/>
<circle cx="264.2" cy="302.1" r="2.3" fill="#1ca6b0"/>
<circle cx="261.3" cy="305.4" r="2.3" fill="#1ca6b0"/>
<circle cx="258.8" cy="317.6" r="2.3" fill="#1ca6b0"/>
<circle cx="261.7" cy="319.8" r="2.3" fill="#1ca6b0"/>
<circle cx="264.9" cy="317.6" r="2.3" fill="#1ca6b0"/>
<circle cx="259.1" cy="324.8" r="2.3" fill="#1ca6b0"/>
<circle cx="261.7" cy="331" r="2.3" fill="#1ca6b0"/>
<circle cx="264.2" cy="329.2" r="2.3" fill="#1ca6b0"/>
<circle cx="261.7" cy="337.5" r="2.3" fill="#1ca6b0"/>
<circle cx="258.6" cy="321.5" r="2.3" fill="#1ca6b0"/>
<circle cx="293" cy="311.8" r="2.3" fill="#1ca6b0"/>
<circle cx="291.8" cy="318.5" r="2.3" fill="#1ca6b0"/>
<circle cx="294" cy="320.5" r="2.3" fill="#1ca6b0"/>
<circle cx="290" cy="325" r="2.3" fill="#1ca6b0"/>
<circle cx="295.5" cy="327" r="2.3" fill="#1ca6b0"/>
<circle cx="292" cy="329.5" r="2.3" fill="#1ca6b0"/>
<circle cx="294" cy="331.5" r="2.3" fill="#1ca6b0"/>
<circle cx="290.5" cy="334" r="2.3" fill="#1ca6b0"/>
<circle cx="295.5" cy="334.5" r="2.3" fill="#1ca6b0"/>
<circle cx="292.5" cy="339" r="2.3" fill="#1ca6b0"/>
<circle cx="313.5" cy="340.7" r="2.3" fill="#f0766f"/>
<circle cx="313.5" cy="373.3" r="2.3" fill="#f0766f"/>
<circle cx="322.5" cy="318.5" r="2.3" fill="#1ca6b0"/>
<circle cx="325.5" cy="319" r="2.3" fill="#1ca6b0"/>
<circle cx="327.5" cy="321" r="2.3" fill="#1ca6b0"/>
<circle cx="324" cy="323" r="2.3" fill="#1ca6b0"/>
<circle cx="326.5" cy="325" r="2.3" fill="#1ca6b0"/>
<circle cx="323.2" cy="327.5" r="2.3" fill="#1ca6b0"/>
<circle cx="327.5" cy="330.5" r="2.3" fill="#1ca6b0"/>
<circle cx="324.5" cy="333" r="2.3" fill="#1ca6b0"/>
<circle cx="325" cy="340.5" r="2.3" fill="#1ca6b0"/>
<line x1="240.8" y1="289.5" x2="240.8" y2="383.05" stroke="#000" stroke-width="1.4" />
<line x1="235.8" y1="289.5" x2="240.8" y2="289.5" stroke="#000" stroke-width="1.4" />
<text x="235" y="294.4" font-size="11" font-weight="bold" text-anchor="end" fill="#000" class="b" >100,000</text>
<line x1="235.8" y1="320.5" x2="240.8" y2="320.5" stroke="#000" stroke-width="1.4" />
<text x="235" y="325.4" font-size="11" font-weight="bold" text-anchor="end" fill="#000" class="b" >10,000</text>
<line x1="235.8" y1="351.6" x2="240.8" y2="351.6" stroke="#000" stroke-width="1.4" />
<text x="235" y="356.5" font-size="11" font-weight="bold" text-anchor="end" fill="#000" class="b" >1,000</text>
<line x1="235.8" y1="382.3" x2="240.8" y2="382.3" stroke="#000" stroke-width="1.4" />
<text x="235" y="387.2" font-size="11" font-weight="bold" text-anchor="end" fill="#000" class="b" >100</text>
<line x1="240.1" y1="382.3" x2="336" y2="382.3" stroke="#000" stroke-width="1.4" />
<line x1="256.2" y1="382.3" x2="256.2" y2="387.1" stroke="#000" stroke-width="1.4" />
<line x1="287.5" y1="382.3" x2="287.5" y2="387.1" stroke="#000" stroke-width="1.4" />
<line x1="319" y1="382.3" x2="319" y2="387.1" stroke="#000" stroke-width="1.4" />
<polyline points="249.5,334 249.5,295.8 260,295.8 260,298.3" fill="none" stroke="#000" stroke-width="1.5"/>
<polyline points="282.7,359.3 282.7,303.2 293.7,303.2 293.7,307" fill="none" stroke="#000" stroke-width="1.5"/>
<polyline points="313.9,334 313.9,312.4 324.8,312.4 324.8,314.7" fill="none" stroke="#000" stroke-width="1.5"/>
<text x="255.55" y="297.9" font-size="14" font-weight="bold" text-anchor="middle" fill="#000" class="b" letter-spacing="1.5">*</text>
<text x="288.75" y="304.7" font-size="14" font-weight="bold" text-anchor="middle" fill="#000" class="b" letter-spacing="1.5">***</text>
<text x="321.35" y="313.4" font-size="14" font-weight="bold" text-anchor="middle" fill="#000" class="b" letter-spacing="1.5">***</text>
<text transform="translate(191.5,342.4) rotate(-90)" font-size="11.3" font-weight="bold" text-anchor="middle" fill="#000" class="b">Integrin β1 [MFI]</text>
<rect x="246.9" y="442.2" width="8.4" height="54.2" fill="#fff" stroke="#000" stroke-width="1.5"/>
<rect x="258.1" y="438.7" width="8.2" height="57.7" fill="#fff" stroke="#000" stroke-width="1.5"/>
<rect x="278.3" y="453.3" width="8.6" height="43.1" fill="#fff" stroke="#000" stroke-width="1.5"/>
<rect x="289.1" y="448" width="7.8" height="48.4" fill="#fff" stroke="#000" stroke-width="1.5"/>
<rect x="309.8" y="436.8" width="8.3" height="59.6" fill="#fff" stroke="#000" stroke-width="1.5"/>
<rect x="320.2" y="436.4" width="8.2" height="60" fill="#fff" stroke="#000" stroke-width="1.5"/>
<line x1="251.2" y1="434.5" x2="251.2" y2="442.2" stroke="#8c8c8c" stroke-width="0.9" />
<line x1="248.5" y1="434.5" x2="253.9" y2="434.5" stroke="#4a4a4a" stroke-width="1.1" />
<line x1="261.9" y1="429" x2="261.9" y2="438.7" stroke="#8c8c8c" stroke-width="0.9" />
<line x1="259.2" y1="429" x2="264.6" y2="429" stroke="#4a4a4a" stroke-width="1.1" />
<line x1="293" y1="442" x2="293" y2="448" stroke="#8c8c8c" stroke-width="0.9" />
<line x1="290.3" y1="442" x2="295.7" y2="442" stroke="#4a4a4a" stroke-width="1.1" />
<circle cx="250.8" cy="425.8" r="2.3" fill="#f0766f"/>
<circle cx="251.5" cy="436.5" r="2.3" fill="#f0766f"/>
<circle cx="249.5" cy="440.5" r="2.3" fill="#f0766f"/>
<circle cx="252.5" cy="441.5" r="2.3" fill="#f0766f"/>
<circle cx="250" cy="444" r="2.3" fill="#f0766f"/>
<circle cx="253" cy="445.5" r="2.3" fill="#f0766f"/>
<circle cx="251" cy="447.2" r="2.3" fill="#f0766f"/>
<circle cx="252.8" cy="448.8" r="2.3" fill="#f0766f"/>
<circle cx="261.8" cy="423" r="2.3" fill="#1ca6b0"/>
<circle cx="261.8" cy="427.5" r="2.3" fill="#1ca6b0"/>
<circle cx="261.5" cy="433.5" r="2.3" fill="#1ca6b0"/>
<circle cx="260" cy="438" r="2.3" fill="#1ca6b0"/>
<circle cx="263" cy="440" r="2.3" fill="#1ca6b0"/>
<circle cx="261" cy="443.5" r="2.3" fill="#1ca6b0"/>
<circle cx="264" cy="446" r="2.3" fill="#1ca6b0"/>
<circle cx="261.8" cy="452.5" r="2.3" fill="#1ca6b0"/>
<circle cx="282" cy="441.5" r="2.3" fill="#f0766f"/>
<circle cx="280.5" cy="446" r="2.3" fill="#f0766f"/>
<circle cx="283.5" cy="447.5" r="2.3" fill="#f0766f"/>
<circle cx="281" cy="450.5" r="2.3" fill="#f0766f"/>
<circle cx="283.8" cy="452.5" r="2.3" fill="#f0766f"/>
<circle cx="281.5" cy="454.5" r="2.3" fill="#f0766f"/>
<circle cx="283" cy="456.5" r="2.3" fill="#f0766f"/>
<circle cx="281.8" cy="458.3" r="2.3" fill="#f0766f"/>
<circle cx="292.8" cy="437.5" r="2.3" fill="#1ca6b0"/>
<circle cx="290.5" cy="443" r="2.3" fill="#1ca6b0"/>
<circle cx="294.5" cy="444.5" r="2.3" fill="#1ca6b0"/>
<circle cx="291.5" cy="446.5" r="2.3" fill="#1ca6b0"/>
<circle cx="295" cy="448.5" r="2.3" fill="#1ca6b0"/>
<circle cx="292" cy="451" r="2.3" fill="#1ca6b0"/>
<circle cx="294" cy="452.5" r="2.3" fill="#1ca6b0"/>
<circle cx="292.5" cy="464.3" r="2.3" fill="#1ca6b0"/>
<circle cx="312.5" cy="434" r="2.3" fill="#f0766f"/>
<circle cx="314.5" cy="433.8" r="2.3" fill="#f0766f"/>
<circle cx="316.5" cy="434.5" r="2.3" fill="#f0766f"/>
<circle cx="313.5" cy="436.5" r="2.3" fill="#f0766f"/>
<circle cx="315.8" cy="437.3" r="2.3" fill="#f0766f"/>
<circle cx="314" cy="439.5" r="2.3" fill="#f0766f"/>
<circle cx="324" cy="432" r="2.3" fill="#1ca6b0"/>
<circle cx="326.5" cy="432.5" r="2.3" fill="#1ca6b0"/>
<circle cx="328" cy="434.5" r="2.3" fill="#1ca6b0"/>
<circle cx="323" cy="435" r="2.3" fill="#1ca6b0"/>
<circle cx="325.5" cy="436.5" r="2.3" fill="#1ca6b0"/>
<circle cx="327.5" cy="437.5" r="2.3" fill="#1ca6b0"/>
<circle cx="324.5" cy="439" r="2.3" fill="#1ca6b0"/>
<circle cx="325" cy="445" r="2.3" fill="#1ca6b0"/>
<line x1="240.8" y1="403.7" x2="240.8" y2="497.15" stroke="#000" stroke-width="1.4" />
<line x1="235.8" y1="403.7" x2="240.8" y2="403.7" stroke="#000" stroke-width="1.4" />
<text x="235" y="408.6" font-size="11" font-weight="bold" text-anchor="end" fill="#000" class="b" >100,000</text>
<line x1="235.8" y1="450.2" x2="240.8" y2="450.2" stroke="#000" stroke-width="1.4" />
<text x="235" y="455.1" font-size="11" font-weight="bold" text-anchor="end" fill="#000" class="b" >10,000</text>
<line x1="235.8" y1="496.4" x2="240.8" y2="496.4" stroke="#000" stroke-width="1.4" />
<text x="235" y="501.3" font-size="11" font-weight="bold" text-anchor="end" fill="#000" class="b" >1,000</text>
<line x1="240.1" y1="496.4" x2="336" y2="496.4" stroke="#000" stroke-width="1.4" />
<line x1="256.2" y1="496.4" x2="256.2" y2="501.2" stroke="#000" stroke-width="1.4" />
<line x1="287.5" y1="496.4" x2="287.5" y2="501.2" stroke="#000" stroke-width="1.4" />
<line x1="319" y1="496.4" x2="319" y2="501.2" stroke="#000" stroke-width="1.4" />
<text transform="translate(191.5,452.3) rotate(-90)" font-size="11.3" font-weight="bold" text-anchor="middle" fill="#000" class="b">Integrin β2 [MFI]</text>
<rect x="258.1" y="548.5" width="8.2" height="63.3" fill="#fff" stroke="#000" stroke-width="1.5"/>
<rect x="289.1" y="545.6" width="7.8" height="66.2" fill="#fff" stroke="#000" stroke-width="1.5"/>
<rect x="320.4" y="542.7" width="8" height="69.1" fill="#fff" stroke="#000" stroke-width="1.5"/>
<circle cx="261.8" cy="540" r="2.3" fill="#1ca6b0"/>
<circle cx="260.5" cy="542.5" r="2.3" fill="#1ca6b0"/>
<circle cx="263" cy="543" r="2.3" fill="#1ca6b0"/>
<circle cx="259.5" cy="545.5" r="2.3" fill="#1ca6b0"/>
<circle cx="262" cy="546" r="2.3" fill="#1ca6b0"/>
<circle cx="264.5" cy="546.8" r="2.3" fill="#1ca6b0"/>
<circle cx="261" cy="548" r="2.3" fill="#1ca6b0"/>
<circle cx="290.5" cy="541" r="2.3" fill="#1ca6b0"/>
<circle cx="293" cy="540.8" r="2.3" fill="#1ca6b0"/>
<circle cx="295.5" cy="542" r="2.3" fill="#1ca6b0"/>
<circle cx="291.5" cy="543.5" r="2.3" fill="#1ca6b0"/>
<circle cx="294.5" cy="544.5" r="2.3" fill="#1ca6b0"/>
<circle cx="292.7" cy="550.4" r="2.3" fill="#1ca6b0"/>
<circle cx="292.7" cy="555.6" r="2.3" fill="#1ca6b0"/>
<circle cx="322.5" cy="539.5" r="2.3" fill="#1ca6b0"/>
<circle cx="325" cy="539.2" r="2.3" fill="#1ca6b0"/>
<circle cx="327.5" cy="540" r="2.3" fill="#1ca6b0"/>
<circle cx="323.5" cy="541.5" r="2.3" fill="#1ca6b0"/>
<circle cx="326.5" cy="542" r="2.3" fill="#1ca6b0"/>
<line x1="240.8" y1="519.2" x2="240.8" y2="612.55" stroke="#000" stroke-width="1.4" />
<line x1="235.8" y1="519.2" x2="240.8" y2="519.2" stroke="#000" stroke-width="1.4" />
<text x="235" y="524.1" font-size="11" font-weight="bold" text-anchor="end" fill="#000" class="b" >100,000</text>
<line x1="235.8" y1="537.9" x2="240.8" y2="537.9" stroke="#000" stroke-width="1.4" />
<text x="235" y="542.8" font-size="11" font-weight="bold" text-anchor="end" fill="#000" class="b" >10,000</text>
<line x1="235.8" y1="556.3" x2="240.8" y2="556.3" stroke="#000" stroke-width="1.4" />
<text x="235" y="561.2" font-size="11" font-weight="bold" text-anchor="end" fill="#000" class="b" >1,000</text>
<line x1="235.8" y1="575" x2="240.8" y2="575" stroke="#000" stroke-width="1.4" />
<text x="235" y="579.9" font-size="11" font-weight="bold" text-anchor="end" fill="#000" class="b" >100</text>
<line x1="235.8" y1="593.3" x2="240.8" y2="593.3" stroke="#000" stroke-width="1.4" />
<text x="235" y="598.2" font-size="11" font-weight="bold" text-anchor="end" fill="#000" class="b" >10</text>
<line x1="235.8" y1="611.6" x2="240.8" y2="611.6" stroke="#000" stroke-width="1.4" />
<text x="235" y="616.5" font-size="11" font-weight="bold" text-anchor="end" fill="#000" class="b" >1</text>
<line x1="240.1" y1="611.8" x2="334.5" y2="611.8" stroke="#000" stroke-width="1.4" />
<line x1="256.2" y1="611.8" x2="256.2" y2="616.6" stroke="#000" stroke-width="1.4" />
<line x1="287.5" y1="611.8" x2="287.5" y2="616.6" stroke="#000" stroke-width="1.4" />
<line x1="319" y1="611.8" x2="319" y2="616.6" stroke="#000" stroke-width="1.4" />
<polyline points="249,593.7 249,535 260.6,535 260.6,537" fill="none" stroke="#000" stroke-width="1.5"/>
<polyline points="281.6,593.7 281.6,532.7 294,532.7 294,535" fill="none" stroke="#000" stroke-width="1.5"/>
<polyline points="313.9,593.7 313.9,534.6 326,534.6 326,537" fill="none" stroke="#000" stroke-width="1.5"/>
<text x="255.05" y="537.4" font-size="14" font-weight="bold" text-anchor="middle" fill="#000" class="b" letter-spacing="1.5">***</text>
<text x="288.85" y="535.2" font-size="14" font-weight="bold" text-anchor="middle" fill="#000" class="b" letter-spacing="1.5">***</text>
<text x="321.15" y="537.9" font-size="14" font-weight="bold" text-anchor="middle" fill="#000" class="b" letter-spacing="1.5">***</text>
<text transform="translate(191.5,570.8) rotate(-90)" font-size="11.3" font-weight="bold" text-anchor="middle" fill="#000" class="b">Integrin β7 [MFI]</text>
<rect x="430.7" y="374.4" width="8.7" height="7.8" fill="#fff" stroke="#000" stroke-width="1.5"/>
<rect x="441.4" y="328.1" width="8.7" height="54.1" fill="#fff" stroke="#000" stroke-width="1.5"/>
<rect x="462.4" y="367.7" width="8.2" height="14.5" fill="#fff" stroke="#000" stroke-width="1.5"/>
<rect x="472.5" y="320.5" width="8.9" height="61.7" fill="#fff" stroke="#000" stroke-width="1.5"/>
<rect x="493.7" y="347.6" width="7.8" height="34.6" fill="#fff" stroke="#000" stroke-width="1.5"/>
<rect x="504.7" y="324.3" width="8.3" height="57.9" fill="#fff" stroke="#000" stroke-width="1.5"/>
<line x1="435" y1="359.8" x2="435" y2="374.4" stroke="#8c8c8c" stroke-width="0.9" />
<line x1="432.3" y1="359.8" x2="437.7" y2="359.8" stroke="#4a4a4a" stroke-width="1.1" />
<line x1="466.5" y1="356" x2="466.5" y2="367.7" stroke="#8c8c8c" stroke-width="0.9" />
<line x1="463.8" y1="356" x2="469.2" y2="356" stroke="#4a4a4a" stroke-width="1.1" />
<line x1="497.8" y1="338" x2="497.8" y2="347.6" stroke="#8c8c8c" stroke-width="0.9" />
<line x1="495.1" y1="338" x2="500.5" y2="338" stroke="#4a4a4a" stroke-width="1.1" />
<circle cx="435.4" cy="351.4" r="2.3" fill="#f0766f"/>
<circle cx="445.5" cy="320.3" r="2.3" fill="#1ca6b0"/>
<circle cx="447.8" cy="321.5" r="2.3" fill="#1ca6b0"/>
<circle cx="444" cy="323" r="2.3" fill="#1ca6b0"/>
<circle cx="446.8" cy="324.5" r="2.3" fill="#1ca6b0"/>
<circle cx="448.8" cy="325.5" r="2.3" fill="#1ca6b0"/>
<circle cx="445" cy="327" r="2.3" fill="#1ca6b0"/>
<circle cx="447.5" cy="329" r="2.3" fill="#1ca6b0"/>
<circle cx="445.5" cy="332.5" r="2.3" fill="#1ca6b0"/>
<circle cx="444.5" cy="336" r="2.3" fill="#1ca6b0"/>
<circle cx="447" cy="338" r="2.3" fill="#1ca6b0"/>
<circle cx="464" cy="350.3" r="2.3" fill="#f0766f"/>
<circle cx="469.2" cy="351.8" r="2.3" fill="#f0766f"/>
<circle cx="466" cy="373.6" r="2.3" fill="#f0766f"/>
<circle cx="478.5" cy="309.8" r="2.3" fill="#1ca6b0"/>
<circle cx="475.5" cy="312" r="2.3" fill="#1ca6b0"/>
<circle cx="478" cy="314.5" r="2.3" fill="#1ca6b0"/>
<circle cx="476" cy="317.5" r="2.3" fill="#1ca6b0"/>
<circle cx="479" cy="320" r="2.3" fill="#1ca6b0"/>
<circle cx="476.5" cy="325" r="2.3" fill="#1ca6b0"/>
<circle cx="478.5" cy="327.5" r="2.3" fill="#1ca6b0"/>
<circle cx="476" cy="331" r="2.3" fill="#1ca6b0"/>
<circle cx="478.8" cy="334" r="2.3" fill="#1ca6b0"/>
<circle cx="475.5" cy="338.5" r="2.3" fill="#1ca6b0"/>
<circle cx="494.6" cy="338" r="2.3" fill="#f0766f"/>
<circle cx="497.8" cy="337" r="2.3" fill="#f0766f"/>
<circle cx="501" cy="336.6" r="2.3" fill="#f0766f"/>
<circle cx="506.5" cy="318.5" r="2.3" fill="#1ca6b0"/>
<circle cx="509" cy="320" r="2.3" fill="#1ca6b0"/>
<circle cx="511" cy="321.5" r="2.3" fill="#1ca6b0"/>
<circle cx="507.5" cy="323.5" r="2.3" fill="#1ca6b0"/>
<circle cx="510" cy="325" r="2.3" fill="#1ca6b0"/>
<circle cx="508" cy="329" r="2.3" fill="#1ca6b0"/>
<circle cx="510.5" cy="331.5" r="2.3" fill="#1ca6b0"/>
<circle cx="507" cy="334" r="2.3" fill="#1ca6b0"/>
<circle cx="509" cy="336.8" r="2.3" fill="#1ca6b0"/>
<line x1="424.8" y1="289.4" x2="424.8" y2="382.95" stroke="#000" stroke-width="1.4" />
<line x1="419.8" y1="289.4" x2="424.8" y2="289.4" stroke="#000" stroke-width="1.4" />
<text x="419" y="294.3" font-size="11" font-weight="bold" text-anchor="end" fill="#000" class="b" >100,000</text>
<line x1="419.8" y1="312.7" x2="424.8" y2="312.7" stroke="#000" stroke-width="1.4" />
<text x="419" y="317.6" font-size="11" font-weight="bold" text-anchor="end" fill="#000" class="b" >10,000</text>
<line x1="419.8" y1="336" x2="424.8" y2="336" stroke="#000" stroke-width="1.4" />
<text x="419" y="340.9" font-size="11" font-weight="bold" text-anchor="end" fill="#000" class="b" >1,000</text>
<line x1="419.8" y1="359.2" x2="424.8" y2="359.2" stroke="#000" stroke-width="1.4" />
<text x="419" y="364.1" font-size="11" font-weight="bold" text-anchor="end" fill="#000" class="b" >100</text>
<line x1="419.8" y1="382.2" x2="424.8" y2="382.2" stroke="#000" stroke-width="1.4" />
<text x="419" y="387.1" font-size="11" font-weight="bold" text-anchor="end" fill="#000" class="b" >10</text>
<line x1="424.1" y1="382.2" x2="518" y2="382.2" stroke="#000" stroke-width="1.4" />
<line x1="440.3" y1="382.2" x2="440.3" y2="387" stroke="#000" stroke-width="1.4" />
<line x1="471.3" y1="382.2" x2="471.3" y2="387" stroke="#000" stroke-width="1.4" />
<line x1="502.4" y1="382.2" x2="502.4" y2="387" stroke="#000" stroke-width="1.4" />
<polyline points="432.8,337.4 432.8,313.3 444.9,313.3 444.9,315.8" fill="none" stroke="#000" stroke-width="1.5"/>
<polyline points="464.6,342.3 464.6,299.3 476.6,299.3 476.6,303" fill="none" stroke="#000" stroke-width="1.5"/>
<polyline points="496.7,329.6 496.7,307.8 508.4,307.8 508.4,310.6" fill="none" stroke="#000" stroke-width="1.5"/>
<text x="440.25" y="315" font-size="14" font-weight="bold" text-anchor="middle" fill="#000" class="b" letter-spacing="1.5">***</text>
<text x="472.15" y="301.2" font-size="14" font-weight="bold" text-anchor="middle" fill="#000" class="b" letter-spacing="1.5">**</text>
<text x="503.35" y="309.7" font-size="14" font-weight="bold" text-anchor="middle" fill="#000" class="b" letter-spacing="1.5">*</text>
<text transform="translate(374.3,342.4) rotate(-90)" font-size="11.3" font-weight="bold" text-anchor="middle" fill="#000" class="b">Integrin β1 [MFI]</text>
<rect x="430.8" y="414.6" width="8.5" height="85.2" fill="#fff" stroke="#000" stroke-width="1.5"/>
<rect x="441.4" y="446.1" width="8.7" height="53.7" fill="#fff" stroke="#000" stroke-width="1.5"/>
<rect x="462" y="416" width="8.6" height="83.8" fill="#fff" stroke="#000" stroke-width="1.5"/>
<rect x="472.8" y="463.7" width="8.6" height="36.1" fill="#fff" stroke="#000" stroke-width="1.5"/>
<rect x="493.7" y="417.8" width="8.2" height="82" fill="#fff" stroke="#000" stroke-width="1.5"/>
<rect x="504.6" y="442.1" width="8.4" height="57.7" fill="#fff" stroke="#000" stroke-width="1.5"/>
<line x1="477" y1="452" x2="477" y2="463.7" stroke="#8c8c8c" stroke-width="0.9" />
<line x1="474.3" y1="452" x2="479.7" y2="452" stroke="#4a4a4a" stroke-width="1.1" />
<circle cx="435" cy="405.5" r="2.3" fill="#f0766f"/>
<circle cx="433.5" cy="408" r="2.3" fill="#f0766f"/>
<circle cx="436.8" cy="408.5" r="2.3" fill="#f0766f"/>
<circle cx="432.8" cy="411" r="2.3" fill="#f0766f"/>
<circle cx="435.5" cy="411.5" r="2.3" fill="#f0766f"/>
<circle cx="438" cy="411" r="2.3" fill="#f0766f"/>
<circle cx="434" cy="414" r="2.3" fill="#f0766f"/>
<circle cx="437" cy="414.5" r="2.3" fill="#f0766f"/>
<circle cx="435.5" cy="417" r="2.3" fill="#f0766f"/>
<circle cx="444" cy="439.8" r="2.3" fill="#1ca6b0"/>
<circle cx="447" cy="439.5" r="2.3" fill="#1ca6b0"/>
<circle cx="449" cy="441" r="2.3" fill="#1ca6b0"/>
<circle cx="445.5" cy="442.5" r="2.3" fill="#1ca6b0"/>
<circle cx="448" cy="444" r="2.3" fill="#1ca6b0"/>
<circle cx="444.5" cy="446" r="2.3" fill="#1ca6b0"/>
<circle cx="447" cy="450" r="2.3" fill="#1ca6b0"/>
<circle cx="446" cy="454" r="2.3" fill="#1ca6b0"/>
<circle cx="445.5" cy="468" r="2.3" fill="#1ca6b0"/>
<circle cx="466.5" cy="405.5" r="2.3" fill="#f0766f"/>
<circle cx="464.5" cy="408.5" r="2.3" fill="#f0766f"/>
<circle cx="468.5" cy="408.5" r="2.3" fill="#f0766f"/>
<circle cx="466" cy="411" r="2.3" fill="#f0766f"/>
<circle cx="463.5" cy="412.5" r="2.3" fill="#f0766f"/>
<circle cx="468.8" cy="413" r="2.3" fill="#f0766f"/>
<circle cx="465.5" cy="415.5" r="2.3" fill="#f0766f"/>
<circle cx="467.5" cy="417.5" r="2.3" fill="#f0766f"/>
<circle cx="465" cy="420.8" r="2.3" fill="#f0766f"/>
<circle cx="477.3" cy="446" r="2.3" fill="#1ca6b0"/>
<circle cx="474.8" cy="452.5" r="2.3" fill="#1ca6b0"/>
<circle cx="478" cy="453" r="2.3" fill="#1ca6b0"/>
<circle cx="480.8" cy="453.8" r="2.3" fill="#1ca6b0"/>
<circle cx="477.5" cy="477.4" r="2.3" fill="#1ca6b0"/>
<circle cx="475.2" cy="480.6" r="2.3" fill="#1ca6b0"/>
<circle cx="497.5" cy="410" r="2.3" fill="#f0766f"/>
<circle cx="499" cy="413" r="2.3" fill="#f0766f"/>
<circle cx="496.5" cy="414.5" r="2.3" fill="#f0766f"/>
<circle cx="499.5" cy="417" r="2.3" fill="#f0766f"/>
<circle cx="497" cy="419.5" r="2.3" fill="#f0766f"/>
<circle cx="498.5" cy="422.5" r="2.3" fill="#f0766f"/>
<circle cx="497.5" cy="427.5" r="2.3" fill="#f0766f"/>
<circle cx="507.5" cy="434" r="2.3" fill="#1ca6b0"/>
<circle cx="510" cy="434.5" r="2.3" fill="#1ca6b0"/>
<circle cx="511.5" cy="436.5" r="2.3" fill="#1ca6b0"/>
<circle cx="508" cy="438" r="2.3" fill="#1ca6b0"/>
<circle cx="510.5" cy="440" r="2.3" fill="#1ca6b0"/>
<circle cx="507.5" cy="443.5" r="2.3" fill="#1ca6b0"/>
<circle cx="509.5" cy="447" r="2.3" fill="#1ca6b0"/>
<circle cx="508" cy="450.5" r="2.3" fill="#1ca6b0"/>
<circle cx="507" cy="454.5" r="2.3" fill="#1ca6b0"/>
<line x1="424.8" y1="408" x2="424.8" y2="500.55" stroke="#000" stroke-width="1.4" />
<line x1="419.8" y1="408" x2="424.8" y2="408" stroke="#000" stroke-width="1.4" />
<text x="419" y="412.9" font-size="11" font-weight="bold" text-anchor="end" fill="#000" class="b" >100,000</text>
<line x1="419.8" y1="438.5" x2="424.8" y2="438.5" stroke="#000" stroke-width="1.4" />
<text x="419" y="443.4" font-size="11" font-weight="bold" text-anchor="end" fill="#000" class="b" >10,000</text>
<line x1="419.8" y1="469.2" x2="424.8" y2="469.2" stroke="#000" stroke-width="1.4" />
<text x="419" y="474.1" font-size="11" font-weight="bold" text-anchor="end" fill="#000" class="b" >1,000</text>
<line x1="419.8" y1="499.8" x2="424.8" y2="499.8" stroke="#000" stroke-width="1.4" />
<text x="419" y="504.7" font-size="11" font-weight="bold" text-anchor="end" fill="#000" class="b" >100</text>
<line x1="424.1" y1="499.8" x2="518" y2="499.8" stroke="#000" stroke-width="1.4" />
<line x1="440.3" y1="499.8" x2="440.3" y2="504.6" stroke="#000" stroke-width="1.4" />
<line x1="471.3" y1="499.8" x2="471.3" y2="504.6" stroke="#000" stroke-width="1.4" />
<line x1="502.4" y1="499.8" x2="502.4" y2="504.6" stroke="#000" stroke-width="1.4" />
<polyline points="433.3,404 433.3,400.8 445.2,400.8 445.2,438.3" fill="none" stroke="#000" stroke-width="1.5"/>
<polyline points="466,404.5 466,400.8 478,400.8 478,435" fill="none" stroke="#000" stroke-width="1.5"/>
<polyline points="497.8,404.5 497.8,401.2 509.4,401.2 509.4,427.3" fill="none" stroke="#000" stroke-width="1.5"/>
<text x="440.25" y="403.2" font-size="14" font-weight="bold" text-anchor="middle" fill="#000" class="b" letter-spacing="1.5">***</text>
<text x="472.95" y="403.2" font-size="14" font-weight="bold" text-anchor="middle" fill="#000" class="b" letter-spacing="1.5">***</text>
<text x="505.35" y="403.2" font-size="14" font-weight="bold" text-anchor="middle" fill="#000" class="b" letter-spacing="1.5">***</text>
<text transform="translate(374.3,452.3) rotate(-90)" font-size="11.3" font-weight="bold" text-anchor="middle" fill="#000" class="b">Integrin β2 [MFI]</text>
<rect x="441.4" y="557.6" width="8.7" height="54.4" fill="#fff" stroke="#000" stroke-width="1.5"/>
<rect x="472.6" y="575.6" width="8.8" height="36.4" fill="#fff" stroke="#000" stroke-width="1.5"/>
<rect x="504.6" y="553.4" width="8.4" height="58.6" fill="#fff" stroke="#000" stroke-width="1.5"/>
<line x1="477" y1="566" x2="477" y2="575.6" stroke="#8c8c8c" stroke-width="0.9" />
<line x1="474.3" y1="566" x2="479.7" y2="566" stroke="#4a4a4a" stroke-width="1.1" />
<circle cx="435" cy="600.5" r="2.3" fill="#f0766f"/>
<circle cx="444.5" cy="549.5" r="2.3" fill="#1ca6b0"/>
<circle cx="447" cy="549" r="2.3" fill="#1ca6b0"/>
<circle cx="449" cy="550.5" r="2.3" fill="#1ca6b0"/>
<circle cx="445.5" cy="552.5" r="2.3" fill="#1ca6b0"/>
<circle cx="448" cy="554" r="2.3" fill="#1ca6b0"/>
<circle cx="444" cy="556" r="2.3" fill="#1ca6b0"/>
<circle cx="446.5" cy="557" r="2.3" fill="#1ca6b0"/>
<circle cx="446" cy="566.5" r="2.3" fill="#1ca6b0"/>
<circle cx="445.8" cy="579.8" r="2.3" fill="#1ca6b0"/>
<circle cx="477.3" cy="557" r="2.3" fill="#1ca6b0"/>
<circle cx="474.8" cy="563.5" r="2.3" fill="#1ca6b0"/>
<circle cx="478" cy="564" r="2.3" fill="#1ca6b0"/>
<circle cx="480.8" cy="564.5" r="2.3" fill="#1ca6b0"/>
<circle cx="477.7" cy="589.3" r="2.3" fill="#1ca6b0"/>
<circle cx="475.6" cy="592.5" r="2.3" fill="#1ca6b0"/>
<circle cx="506.5" cy="545.5" r="2.3" fill="#1ca6b0"/>
<circle cx="509" cy="545" r="2.3" fill="#1ca6b0"/>
<circle cx="511" cy="547" r="2.3" fill="#1ca6b0"/>
<circle cx="507.5" cy="549.5" r="2.3" fill="#1ca6b0"/>
<circle cx="510.5" cy="551" r="2.3" fill="#1ca6b0"/>
<circle cx="508.5" cy="556" r="2.3" fill="#1ca6b0"/>
<circle cx="510" cy="561" r="2.3" fill="#1ca6b0"/>
<circle cx="507.5" cy="566.5" r="2.3" fill="#1ca6b0"/>
<line x1="425" y1="518.9" x2="425" y2="612.75" stroke="#000" stroke-width="1.4" />
<line x1="420" y1="518.9" x2="425" y2="518.9" stroke="#000" stroke-width="1.4" />
<text x="419.2" y="523.8" font-size="11" font-weight="bold" text-anchor="end" fill="#000" class="b" >100,000</text>
<line x1="420" y1="549.8" x2="425" y2="549.8" stroke="#000" stroke-width="1.4" />
<text x="419.2" y="554.7" font-size="11" font-weight="bold" text-anchor="end" fill="#000" class="b" >10,000</text>
<line x1="420" y1="580.9" x2="425" y2="580.9" stroke="#000" stroke-width="1.4" />
<text x="419.2" y="585.8" font-size="11" font-weight="bold" text-anchor="end" fill="#000" class="b" >1,000</text>
<line x1="420" y1="612" x2="425" y2="612" stroke="#000" stroke-width="1.4" />
<text x="419.2" y="616.9" font-size="11" font-weight="bold" text-anchor="end" fill="#000" class="b" >100</text>
<line x1="424.3" y1="612" x2="518" y2="612" stroke="#000" stroke-width="1.4" />
<line x1="440.3" y1="612" x2="440.3" y2="616.8" stroke="#000" stroke-width="1.4" />
<line x1="471.3" y1="612" x2="471.3" y2="616.8" stroke="#000" stroke-width="1.4" />
<line x1="502.4" y1="612" x2="502.4" y2="616.8" stroke="#000" stroke-width="1.4" />
<polyline points="433.3,592.5 433.3,545.5 444.5,545.5 444.5,548" fill="none" stroke="#000" stroke-width="1.5"/>
<polyline points="465.6,592.9 465.6,549 477.3,549 477.3,552.3" fill="none" stroke="#000" stroke-width="1.5"/>
<polyline points="497.8,592.9 497.8,539.6 509.4,539.6 509.4,543.4" fill="none" stroke="#000" stroke-width="1.5"/>
<text x="440.65" y="548.2" font-size="14" font-weight="bold" text-anchor="middle" fill="#000" class="b" letter-spacing="1.5">***</text>
<text x="472.95" y="552" font-size="14" font-weight="bold" text-anchor="middle" fill="#000" class="b" letter-spacing="1.5">***</text>
<text x="505.95" y="541.9" font-size="14" font-weight="bold" text-anchor="middle" fill="#000" class="b" letter-spacing="1.5">***</text>
<text transform="translate(374.3,570.8) rotate(-90)" font-size="11.3" font-weight="bold" text-anchor="middle" fill="#000" class="b">Integrin β7 [MFI]</text>
<text x="4.1" y="268.6" font-size="16.2" font-weight="bold" text-anchor="start" fill="#000" class="b" style="stroke:none">B</text>
<text x="181.3" y="268.9" font-size="16.2" font-weight="bold" text-anchor="start" fill="#000" class="b" style="stroke:none">C</text>
<text x="351.5" y="269.2" font-size="16.2" font-weight="bold" text-anchor="start" fill="#000" class="b" style="stroke:none">D</text>
<text x="68.8" y="273.9" font-size="11" font-weight="bold" text-anchor="start" fill="#000" class="b" >Bone marrow</text>
<text x="272.9" y="274" font-size="11" font-weight="bold" text-anchor="start" fill="#000" class="b" >Blood</text>
<text x="456.3" y="274.4" font-size="11" font-weight="bold" text-anchor="start" fill="#000" class="b" >Tumor</text>
<text transform="translate(82,625.3) rotate(-45)" font-size="10.5" font-weight="bold" text-anchor="end" fill="#000" class="b">GL261</text>
<text transform="translate(113.3,625.3) rotate(-45)" font-size="10.5" font-weight="bold" text-anchor="end" fill="#000" class="b">SB28</text>
<text transform="translate(145,625.3) rotate(-45)" font-size="10.5" font-weight="bold" text-anchor="end" fill="#000" class="b">Sham</text>
<text transform="translate(258.2,625.3) rotate(-45)" font-size="10.5" font-weight="bold" text-anchor="end" fill="#000" class="b">GL261</text>
<text transform="translate(289.5,625.3) rotate(-45)" font-size="10.5" font-weight="bold" text-anchor="end" fill="#000" class="b">SB28</text>
<text transform="translate(321,625.3) rotate(-45)" font-size="10.5" font-weight="bold" text-anchor="end" fill="#000" class="b">Sham</text>
<text transform="translate(442.3,625.3) rotate(-45)" font-size="10.5" font-weight="bold" text-anchor="end" fill="#000" class="b">GL261</text>
<text transform="translate(473.3,625.3) rotate(-45)" font-size="10.5" font-weight="bold" text-anchor="end" fill="#000" class="b">SB28</text>
<text transform="translate(504.4,625.3) rotate(-45)" font-size="10.5" font-weight="bold" text-anchor="end" fill="#000" class="b">Sham</text>
<circle cx="247.4" cy="667.8" r="2.5" fill="#e2646f"/>
<circle cx="247.4" cy="687.3" r="2.5" fill="#168f97"/>
<text x="262" y="672" font-size="11.3" font-weight="normal" text-anchor="start" fill="#000" stroke="#000" stroke-width="0.2">gMDSC</text>
<text x="262" y="691.6" font-size="11.3" font-weight="normal" text-anchor="start" fill="#000" stroke="#000" stroke-width="0.2">mMDSC</text>
</svg>
</body></html>
